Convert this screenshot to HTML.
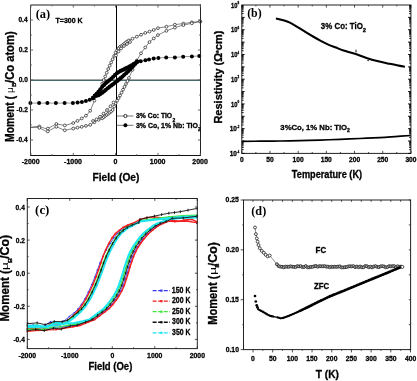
<!DOCTYPE html>
<html><head><meta charset="utf-8"><title>Figure</title>
<style>html,body{margin:0;padding:0;background:#fff;width:417px;height:381px;overflow:hidden}svg{display:block}</style>
</head><body>
<svg width="417" height="381" viewBox="0 0 417 381">
<rect width="417" height="381" fill="#fff"/>
<line x1="30.5" y1="79.5" x2="200.5" y2="79.5" stroke="#a4aaab" stroke-width="1"/>
<line x1="30.5" y1="80.5" x2="200.5" y2="80.5" stroke="#476a6e" stroke-width="1"/>
<line x1="116.5" y1="5" x2="116.5" y2="155" stroke="#000" stroke-width="1"/>
<polyline points="30.4,127.4 38.6,126.2 46.9,129.1 56.4,123.9 64.6,125.5 72.9,123.2 80,119.6 87.1,114.9 90.5,110.3 93.6,102.5 97.6,93.5 101.5,85.5 104.8,77.5 108.8,67.5 112.3,60 115.5,52.8 119,47.6 122.8,45 126,42.3 128.7,40.6 132,39 135.2,37.4 141.1,34.7 145.5,32.8 149.2,31.7 153.9,29.9 157.7,28.2 166.4,26.7 175,24.6 183.3,23.6 191.5,22.4 199.8,21.3" fill="none" stroke="#333" stroke-width="0.6" stroke-linejoin="round"/>
<polyline points="30.4,127.4 38.6,127.4 46.9,131.9 56.4,126.7 64.6,130.3 72.9,128.6 82.3,126.7 90.6,124.8 96.5,120.8 101.8,118.6 106.5,115 112.4,110.5 115.8,102.8 119.8,96 123.8,88.2 127.8,80.5 131.8,71.5 134.4,65.5 136.8,60.5 140.8,53.6 145.5,47.1 149.2,42.3 157.3,35.4 166.7,30.7 176.2,27.2 183,25.2 190.3,23.6 199.8,21.7" fill="none" stroke="#333" stroke-width="0.6" stroke-linejoin="round"/>
<circle cx="39.37" cy="126.47" r="1.4" fill="#fff" stroke="#222" stroke-width="0.72"/>
<circle cx="47.84" cy="128.59" r="1.4" fill="#fff" stroke="#222" stroke-width="0.72"/>
<circle cx="56.31" cy="123.95" r="1.4" fill="#fff" stroke="#222" stroke-width="0.72"/>
<circle cx="64.78" cy="125.45" r="1.4" fill="#fff" stroke="#222" stroke-width="0.72"/>
<circle cx="73.25" cy="123.02" r="1.4" fill="#fff" stroke="#222" stroke-width="0.72"/>
<circle cx="77.48" cy="120.88" r="1.4" fill="#fff" stroke="#222" stroke-width="0.72"/>
<circle cx="81.72" cy="118.46" r="1.4" fill="#fff" stroke="#222" stroke-width="0.72"/>
<circle cx="85.95" cy="115.66" r="1.4" fill="#fff" stroke="#222" stroke-width="0.72"/>
<circle cx="90.19" cy="110.72" r="1.4" fill="#fff" stroke="#222" stroke-width="0.72"/>
<circle cx="94.42" cy="100.64" r="1.4" fill="#fff" stroke="#222" stroke-width="0.72"/>
<circle cx="98.66" cy="91.33" r="1.4" fill="#fff" stroke="#222" stroke-width="0.72"/>
<circle cx="102.26" cy="83.66" r="1.4" fill="#fff" stroke="#222" stroke-width="0.72"/>
<circle cx="103.74" cy="80.06" r="1.4" fill="#fff" stroke="#222" stroke-width="0.72"/>
<circle cx="105.22" cy="76.44" r="1.4" fill="#fff" stroke="#222" stroke-width="0.72"/>
<circle cx="106.71" cy="72.73" r="1.4" fill="#fff" stroke="#222" stroke-width="0.72"/>
<circle cx="108.19" cy="69.03" r="1.4" fill="#fff" stroke="#222" stroke-width="0.72"/>
<circle cx="109.67" cy="65.63" r="1.4" fill="#fff" stroke="#222" stroke-width="0.72"/>
<circle cx="111.15" cy="62.46" r="1.4" fill="#fff" stroke="#222" stroke-width="0.72"/>
<circle cx="112.64" cy="59.25" r="1.4" fill="#fff" stroke="#222" stroke-width="0.72"/>
<circle cx="114.12" cy="55.91" r="1.4" fill="#fff" stroke="#222" stroke-width="0.72"/>
<circle cx="115.6" cy="52.65" r="1.4" fill="#fff" stroke="#222" stroke-width="0.72"/>
<circle cx="117.08" cy="50.45" r="1.4" fill="#fff" stroke="#222" stroke-width="0.72"/>
<circle cx="118.56" cy="48.25" r="1.4" fill="#fff" stroke="#222" stroke-width="0.72"/>
<circle cx="120.05" cy="46.88" r="1.4" fill="#fff" stroke="#222" stroke-width="0.72"/>
<circle cx="121.53" cy="45.87" r="1.4" fill="#fff" stroke="#222" stroke-width="0.72"/>
<circle cx="123.01" cy="44.82" r="1.4" fill="#fff" stroke="#222" stroke-width="0.72"/>
<circle cx="124.49" cy="43.57" r="1.4" fill="#fff" stroke="#222" stroke-width="0.72"/>
<circle cx="125.98" cy="42.32" r="1.4" fill="#fff" stroke="#222" stroke-width="0.72"/>
<circle cx="127.46" cy="41.38" r="1.4" fill="#fff" stroke="#222" stroke-width="0.72"/>
<circle cx="128.94" cy="40.48" r="1.4" fill="#fff" stroke="#222" stroke-width="0.72"/>
<circle cx="132.54" cy="38.73" r="1.4" fill="#fff" stroke="#222" stroke-width="0.72"/>
<circle cx="136.78" cy="36.68" r="1.4" fill="#fff" stroke="#222" stroke-width="0.72"/>
<circle cx="141.01" cy="34.74" r="1.4" fill="#fff" stroke="#222" stroke-width="0.72"/>
<circle cx="145.25" cy="32.91" r="1.4" fill="#fff" stroke="#222" stroke-width="0.72"/>
<circle cx="149.48" cy="31.59" r="1.4" fill="#fff" stroke="#222" stroke-width="0.72"/>
<circle cx="153.72" cy="29.97" r="1.4" fill="#fff" stroke="#222" stroke-width="0.72"/>
<circle cx="157.95" cy="28.16" r="1.4" fill="#fff" stroke="#222" stroke-width="0.72"/>
<circle cx="166.42" cy="26.7" r="1.4" fill="#fff" stroke="#222" stroke-width="0.72"/>
<circle cx="174.89" cy="24.63" r="1.4" fill="#fff" stroke="#222" stroke-width="0.72"/>
<circle cx="183.36" cy="23.59" r="1.4" fill="#fff" stroke="#222" stroke-width="0.72"/>
<circle cx="191.83" cy="22.36" r="1.4" fill="#fff" stroke="#222" stroke-width="0.72"/>
<circle cx="200.3" cy="21.3" r="1.4" fill="#fff" stroke="#222" stroke-width="0.72"/>
<circle cx="39.37" cy="127.82" r="1.4" fill="#fff" stroke="#222" stroke-width="0.72"/>
<circle cx="47.84" cy="131.39" r="1.4" fill="#fff" stroke="#222" stroke-width="0.72"/>
<circle cx="56.31" cy="126.75" r="1.4" fill="#fff" stroke="#222" stroke-width="0.72"/>
<circle cx="64.78" cy="130.26" r="1.4" fill="#fff" stroke="#222" stroke-width="0.72"/>
<circle cx="73.25" cy="128.53" r="1.4" fill="#fff" stroke="#222" stroke-width="0.72"/>
<circle cx="77.48" cy="127.67" r="1.4" fill="#fff" stroke="#222" stroke-width="0.72"/>
<circle cx="81.72" cy="126.82" r="1.4" fill="#fff" stroke="#222" stroke-width="0.72"/>
<circle cx="85.95" cy="125.86" r="1.4" fill="#fff" stroke="#222" stroke-width="0.72"/>
<circle cx="90.19" cy="124.89" r="1.4" fill="#fff" stroke="#222" stroke-width="0.72"/>
<circle cx="94.42" cy="122.21" r="1.4" fill="#fff" stroke="#222" stroke-width="0.72"/>
<circle cx="98.66" cy="119.9" r="1.4" fill="#fff" stroke="#222" stroke-width="0.72"/>
<circle cx="102.26" cy="118.25" r="1.4" fill="#fff" stroke="#222" stroke-width="0.72"/>
<circle cx="103.74" cy="117.11" r="1.4" fill="#fff" stroke="#222" stroke-width="0.72"/>
<circle cx="105.22" cy="115.98" r="1.4" fill="#fff" stroke="#222" stroke-width="0.72"/>
<circle cx="106.71" cy="114.84" r="1.4" fill="#fff" stroke="#222" stroke-width="0.72"/>
<circle cx="108.19" cy="113.71" r="1.4" fill="#fff" stroke="#222" stroke-width="0.72"/>
<circle cx="109.67" cy="112.58" r="1.4" fill="#fff" stroke="#222" stroke-width="0.72"/>
<circle cx="111.15" cy="111.45" r="1.4" fill="#fff" stroke="#222" stroke-width="0.72"/>
<circle cx="112.64" cy="109.97" r="1.4" fill="#fff" stroke="#222" stroke-width="0.72"/>
<circle cx="114.12" cy="106.61" r="1.4" fill="#fff" stroke="#222" stroke-width="0.72"/>
<circle cx="115.6" cy="103.25" r="1.4" fill="#fff" stroke="#222" stroke-width="0.72"/>
<circle cx="117.08" cy="100.62" r="1.4" fill="#fff" stroke="#222" stroke-width="0.72"/>
<circle cx="118.56" cy="98.1" r="1.4" fill="#fff" stroke="#222" stroke-width="0.72"/>
<circle cx="120.05" cy="95.52" r="1.4" fill="#fff" stroke="#222" stroke-width="0.72"/>
<circle cx="121.53" cy="92.63" r="1.4" fill="#fff" stroke="#222" stroke-width="0.72"/>
<circle cx="123.01" cy="89.74" r="1.4" fill="#fff" stroke="#222" stroke-width="0.72"/>
<circle cx="124.49" cy="86.87" r="1.4" fill="#fff" stroke="#222" stroke-width="0.72"/>
<circle cx="125.98" cy="84.01" r="1.4" fill="#fff" stroke="#222" stroke-width="0.72"/>
<circle cx="127.46" cy="81.16" r="1.4" fill="#fff" stroke="#222" stroke-width="0.72"/>
<circle cx="128.94" cy="77.93" r="1.4" fill="#fff" stroke="#222" stroke-width="0.72"/>
<circle cx="132.54" cy="69.79" r="1.4" fill="#fff" stroke="#222" stroke-width="0.72"/>
<circle cx="136.78" cy="60.55" r="1.4" fill="#fff" stroke="#222" stroke-width="0.72"/>
<circle cx="141.01" cy="53.31" r="1.4" fill="#fff" stroke="#222" stroke-width="0.72"/>
<circle cx="145.25" cy="47.45" r="1.4" fill="#fff" stroke="#222" stroke-width="0.72"/>
<circle cx="149.48" cy="42.06" r="1.4" fill="#fff" stroke="#222" stroke-width="0.72"/>
<circle cx="153.72" cy="38.45" r="1.4" fill="#fff" stroke="#222" stroke-width="0.72"/>
<circle cx="157.95" cy="35.08" r="1.4" fill="#fff" stroke="#222" stroke-width="0.72"/>
<circle cx="166.42" cy="30.84" r="1.4" fill="#fff" stroke="#222" stroke-width="0.72"/>
<circle cx="174.89" cy="27.68" r="1.4" fill="#fff" stroke="#222" stroke-width="0.72"/>
<circle cx="183.36" cy="25.12" r="1.4" fill="#fff" stroke="#222" stroke-width="0.72"/>
<circle cx="191.83" cy="23.29" r="1.4" fill="#fff" stroke="#222" stroke-width="0.72"/>
<circle cx="200.3" cy="21.7" r="1.4" fill="#fff" stroke="#222" stroke-width="0.72"/>
<polyline points="116,55.5 118.5,51.5 121,48.5 124,46 127,44 130,42" fill="none" stroke="#333" stroke-width="0.6" stroke-linejoin="round"/>
<polyline points="93,121 96.5,119.3 100,116.8 103.5,113.6 107,110 110.5,106.3 113.5,102.5" fill="none" stroke="#333" stroke-width="0.6" stroke-linejoin="round"/>
<circle cx="93" cy="121" r="1.4" fill="#fff" stroke="#222" stroke-width="0.72"/>
<circle cx="96.5" cy="119.3" r="1.4" fill="#fff" stroke="#222" stroke-width="0.72"/>
<circle cx="100" cy="116.8" r="1.4" fill="#fff" stroke="#222" stroke-width="0.72"/>
<circle cx="103.5" cy="113.6" r="1.4" fill="#fff" stroke="#222" stroke-width="0.72"/>
<circle cx="107" cy="110" r="1.4" fill="#fff" stroke="#222" stroke-width="0.72"/>
<circle cx="110.5" cy="106.3" r="1.4" fill="#fff" stroke="#222" stroke-width="0.72"/>
<circle cx="113.5" cy="102.5" r="1.4" fill="#fff" stroke="#222" stroke-width="0.72"/>
<circle cx="116" cy="55.5" r="1.4" fill="#fff" stroke="#222" stroke-width="0.72"/>
<circle cx="118.5" cy="51.5" r="1.4" fill="#fff" stroke="#222" stroke-width="0.72"/>
<circle cx="121" cy="48.5" r="1.4" fill="#fff" stroke="#222" stroke-width="0.72"/>
<circle cx="124" cy="46" r="1.4" fill="#fff" stroke="#222" stroke-width="0.72"/>
<circle cx="127" cy="44" r="1.4" fill="#fff" stroke="#222" stroke-width="0.72"/>
<circle cx="130" cy="42" r="1.4" fill="#fff" stroke="#222" stroke-width="0.72"/>
<polyline points="30.4,103.1 39.1,103.1 47.4,103.1 55.9,103.1 64.6,103.1 72.9,103 77.6,102.6 81.9,102 85.9,101 89.7,99.8 93,98 94.5,96 98,92.5 102.4,86.6 106.5,82.5 111,79 116.4,73.6 120,71.2 124,69.3 128.5,67 132.6,64.8 137.2,61.8" fill="none" stroke="#555" stroke-width="0.6" stroke-linejoin="round"/>
<polyline points="93,98 94.5,96 98,95.6 103.5,91.8 108.9,87.3 113,84.3 117.5,80.8 122,77 126.1,73.2 130,69.6 132.6,66.8 137.2,61.8 140.7,61.2 145.4,60.3 149,59.5 153.7,58.6 158.4,57.9 166.2,57.5 174.9,57.4 183.2,56.7 191.9,56.4 199.3,56" fill="none" stroke="#555" stroke-width="0.6" stroke-linejoin="round"/>
<circle cx="137.2" cy="61.4" r="2" fill="#000" stroke="none" stroke-width="0.6"/>
<circle cx="140.7" cy="61.2" r="2" fill="#000" stroke="none" stroke-width="0.6"/>
<circle cx="145.4" cy="60.3" r="2" fill="#000" stroke="none" stroke-width="0.6"/>
<circle cx="149" cy="59.5" r="2" fill="#000" stroke="none" stroke-width="0.6"/>
<circle cx="153.7" cy="58.6" r="2" fill="#000" stroke="none" stroke-width="0.6"/>
<circle cx="158.4" cy="57.9" r="2" fill="#000" stroke="none" stroke-width="0.6"/>
<circle cx="166.2" cy="57.5" r="2" fill="#000" stroke="none" stroke-width="0.6"/>
<circle cx="174.9" cy="57.4" r="2" fill="#000" stroke="none" stroke-width="0.6"/>
<circle cx="183.2" cy="56.7" r="2" fill="#000" stroke="none" stroke-width="0.6"/>
<circle cx="191.9" cy="56.4" r="2" fill="#000" stroke="none" stroke-width="0.6"/>
<circle cx="199.3" cy="56" r="2" fill="#000" stroke="none" stroke-width="0.6"/>
<circle cx="30.4" cy="103.1" r="2" fill="#000" stroke="none" stroke-width="0.6"/>
<circle cx="39.1" cy="103.1" r="2" fill="#000" stroke="none" stroke-width="0.6"/>
<circle cx="47.4" cy="103.1" r="2" fill="#000" stroke="none" stroke-width="0.6"/>
<circle cx="55.9" cy="103.1" r="2" fill="#000" stroke="none" stroke-width="0.6"/>
<circle cx="64.6" cy="103.1" r="2" fill="#000" stroke="none" stroke-width="0.6"/>
<circle cx="72.9" cy="103" r="2" fill="#000" stroke="none" stroke-width="0.6"/>
<circle cx="77.6" cy="102.6" r="2" fill="#000" stroke="none" stroke-width="0.6"/>
<circle cx="81.9" cy="102" r="2" fill="#000" stroke="none" stroke-width="0.6"/>
<circle cx="85.9" cy="101" r="2" fill="#000" stroke="none" stroke-width="0.6"/>
<circle cx="89.7" cy="99.8" r="2" fill="#000" stroke="none" stroke-width="0.6"/>
<circle cx="93" cy="98" r="2" fill="#000" stroke="none" stroke-width="0.6"/>
<circle cx="93" cy="98" r="2.1" fill="#000" stroke="none" stroke-width="0.6"/>
<circle cx="94.84" cy="95.66" r="2.1" fill="#000" stroke="none" stroke-width="0.6"/>
<circle cx="96.68" cy="93.82" r="2.1" fill="#000" stroke="none" stroke-width="0.6"/>
<circle cx="98.53" cy="91.8" r="2.1" fill="#000" stroke="none" stroke-width="0.6"/>
<circle cx="100.37" cy="89.33" r="2.1" fill="#000" stroke="none" stroke-width="0.6"/>
<circle cx="102.21" cy="86.86" r="2.1" fill="#000" stroke="none" stroke-width="0.6"/>
<circle cx="104.05" cy="84.95" r="2.1" fill="#000" stroke="none" stroke-width="0.6"/>
<circle cx="105.89" cy="83.11" r="2.1" fill="#000" stroke="none" stroke-width="0.6"/>
<circle cx="107.73" cy="81.54" r="2.1" fill="#000" stroke="none" stroke-width="0.6"/>
<circle cx="109.57" cy="80.11" r="2.1" fill="#000" stroke="none" stroke-width="0.6"/>
<circle cx="111.42" cy="78.58" r="2.1" fill="#000" stroke="none" stroke-width="0.6"/>
<circle cx="113.26" cy="76.74" r="2.1" fill="#000" stroke="none" stroke-width="0.6"/>
<circle cx="115.1" cy="74.9" r="2.1" fill="#000" stroke="none" stroke-width="0.6"/>
<circle cx="116.94" cy="73.24" r="2.1" fill="#000" stroke="none" stroke-width="0.6"/>
<circle cx="118.78" cy="72.01" r="2.1" fill="#000" stroke="none" stroke-width="0.6"/>
<circle cx="120.62" cy="70.9" r="2.1" fill="#000" stroke="none" stroke-width="0.6"/>
<circle cx="122.47" cy="70.03" r="2.1" fill="#000" stroke="none" stroke-width="0.6"/>
<circle cx="124.31" cy="69.14" r="2.1" fill="#000" stroke="none" stroke-width="0.6"/>
<circle cx="126.15" cy="68.2" r="2.1" fill="#000" stroke="none" stroke-width="0.6"/>
<circle cx="127.99" cy="67.26" r="2.1" fill="#000" stroke="none" stroke-width="0.6"/>
<circle cx="129.83" cy="66.28" r="2.1" fill="#000" stroke="none" stroke-width="0.6"/>
<circle cx="131.67" cy="65.3" r="2.1" fill="#000" stroke="none" stroke-width="0.6"/>
<circle cx="133.52" cy="64.2" r="2.1" fill="#000" stroke="none" stroke-width="0.6"/>
<circle cx="135.36" cy="63" r="2.1" fill="#000" stroke="none" stroke-width="0.6"/>
<circle cx="137.2" cy="61.8" r="2.1" fill="#000" stroke="none" stroke-width="0.6"/>
<circle cx="93" cy="98" r="2.1" fill="#000" stroke="none" stroke-width="0.6"/>
<circle cx="94.84" cy="95.96" r="2.1" fill="#000" stroke="none" stroke-width="0.6"/>
<circle cx="96.68" cy="95.75" r="2.1" fill="#000" stroke="none" stroke-width="0.6"/>
<circle cx="98.53" cy="95.24" r="2.1" fill="#000" stroke="none" stroke-width="0.6"/>
<circle cx="100.37" cy="93.96" r="2.1" fill="#000" stroke="none" stroke-width="0.6"/>
<circle cx="102.21" cy="92.69" r="2.1" fill="#000" stroke="none" stroke-width="0.6"/>
<circle cx="104.05" cy="91.34" r="2.1" fill="#000" stroke="none" stroke-width="0.6"/>
<circle cx="105.89" cy="89.81" r="2.1" fill="#000" stroke="none" stroke-width="0.6"/>
<circle cx="107.73" cy="88.27" r="2.1" fill="#000" stroke="none" stroke-width="0.6"/>
<circle cx="109.57" cy="86.81" r="2.1" fill="#000" stroke="none" stroke-width="0.6"/>
<circle cx="111.42" cy="85.46" r="2.1" fill="#000" stroke="none" stroke-width="0.6"/>
<circle cx="113.26" cy="84.1" r="2.1" fill="#000" stroke="none" stroke-width="0.6"/>
<circle cx="115.1" cy="82.67" r="2.1" fill="#000" stroke="none" stroke-width="0.6"/>
<circle cx="116.94" cy="81.23" r="2.1" fill="#000" stroke="none" stroke-width="0.6"/>
<circle cx="118.78" cy="79.72" r="2.1" fill="#000" stroke="none" stroke-width="0.6"/>
<circle cx="120.62" cy="78.16" r="2.1" fill="#000" stroke="none" stroke-width="0.6"/>
<circle cx="122.47" cy="76.57" r="2.1" fill="#000" stroke="none" stroke-width="0.6"/>
<circle cx="124.31" cy="74.86" r="2.1" fill="#000" stroke="none" stroke-width="0.6"/>
<circle cx="126.15" cy="73.15" r="2.1" fill="#000" stroke="none" stroke-width="0.6"/>
<circle cx="127.99" cy="71.45" r="2.1" fill="#000" stroke="none" stroke-width="0.6"/>
<circle cx="129.83" cy="69.75" r="2.1" fill="#000" stroke="none" stroke-width="0.6"/>
<circle cx="131.67" cy="67.8" r="2.1" fill="#000" stroke="none" stroke-width="0.6"/>
<circle cx="133.52" cy="65.8" r="2.1" fill="#000" stroke="none" stroke-width="0.6"/>
<circle cx="135.36" cy="63.8" r="2.1" fill="#000" stroke="none" stroke-width="0.6"/>
<circle cx="137.2" cy="61.8" r="2.1" fill="#000" stroke="none" stroke-width="0.6"/>
<line x1="30.5" y1="5" x2="200.5" y2="5" stroke="#6a6a6a" stroke-width="1.3"/>
<line x1="30.5" y1="5" x2="30.5" y2="155.5" stroke="#444" stroke-width="1"/>
<line x1="30" y1="155.5" x2="201" y2="155.5" stroke="#111" stroke-width="1"/>
<line x1="200.5" y1="4.4" x2="200.5" y2="155.5" stroke="#222" stroke-width="1"/>
<line x1="30.9" y1="155.5" x2="30.9" y2="152.9" stroke="#5a5a5a" stroke-width="0.9"/>
<line x1="30.9" y1="5" x2="30.9" y2="7.6" stroke="#5a5a5a" stroke-width="0.9"/>
<line x1="52.07" y1="155.5" x2="52.07" y2="154.1" stroke="#5a5a5a" stroke-width="0.9"/>
<line x1="52.07" y1="5" x2="52.07" y2="6.4" stroke="#5a5a5a" stroke-width="0.9"/>
<line x1="73.25" y1="155.5" x2="73.25" y2="152.9" stroke="#5a5a5a" stroke-width="0.9"/>
<line x1="73.25" y1="5" x2="73.25" y2="7.6" stroke="#5a5a5a" stroke-width="0.9"/>
<line x1="94.42" y1="155.5" x2="94.42" y2="154.1" stroke="#5a5a5a" stroke-width="0.9"/>
<line x1="94.42" y1="5" x2="94.42" y2="6.4" stroke="#5a5a5a" stroke-width="0.9"/>
<line x1="115.6" y1="155.5" x2="115.6" y2="152.9" stroke="#5a5a5a" stroke-width="0.9"/>
<line x1="115.6" y1="5" x2="115.6" y2="7.6" stroke="#5a5a5a" stroke-width="0.9"/>
<line x1="136.78" y1="155.5" x2="136.78" y2="154.1" stroke="#5a5a5a" stroke-width="0.9"/>
<line x1="136.78" y1="5" x2="136.78" y2="6.4" stroke="#5a5a5a" stroke-width="0.9"/>
<line x1="157.95" y1="155.5" x2="157.95" y2="152.9" stroke="#5a5a5a" stroke-width="0.9"/>
<line x1="157.95" y1="5" x2="157.95" y2="7.6" stroke="#5a5a5a" stroke-width="0.9"/>
<line x1="179.12" y1="155.5" x2="179.12" y2="154.1" stroke="#5a5a5a" stroke-width="0.9"/>
<line x1="179.12" y1="5" x2="179.12" y2="6.4" stroke="#5a5a5a" stroke-width="0.9"/>
<line x1="200.3" y1="155.5" x2="200.3" y2="152.9" stroke="#5a5a5a" stroke-width="0.9"/>
<line x1="200.3" y1="5" x2="200.3" y2="7.6" stroke="#5a5a5a" stroke-width="0.9"/>
<line x1="30.5" y1="140" x2="33.1" y2="140" stroke="#5a5a5a" stroke-width="0.9"/>
<line x1="200.5" y1="140" x2="197.9" y2="140" stroke="#5a5a5a" stroke-width="0.9"/>
<line x1="30.5" y1="125" x2="31.9" y2="125" stroke="#5a5a5a" stroke-width="0.9"/>
<line x1="200.5" y1="125" x2="199.1" y2="125" stroke="#5a5a5a" stroke-width="0.9"/>
<line x1="30.5" y1="110" x2="33.1" y2="110" stroke="#5a5a5a" stroke-width="0.9"/>
<line x1="200.5" y1="110" x2="197.9" y2="110" stroke="#5a5a5a" stroke-width="0.9"/>
<line x1="30.5" y1="95" x2="31.9" y2="95" stroke="#5a5a5a" stroke-width="0.9"/>
<line x1="200.5" y1="95" x2="199.1" y2="95" stroke="#5a5a5a" stroke-width="0.9"/>
<line x1="30.5" y1="80" x2="33.1" y2="80" stroke="#5a5a5a" stroke-width="0.9"/>
<line x1="200.5" y1="80" x2="197.9" y2="80" stroke="#5a5a5a" stroke-width="0.9"/>
<line x1="30.5" y1="65" x2="31.9" y2="65" stroke="#5a5a5a" stroke-width="0.9"/>
<line x1="200.5" y1="65" x2="199.1" y2="65" stroke="#5a5a5a" stroke-width="0.9"/>
<line x1="30.5" y1="50" x2="33.1" y2="50" stroke="#5a5a5a" stroke-width="0.9"/>
<line x1="200.5" y1="50" x2="197.9" y2="50" stroke="#5a5a5a" stroke-width="0.9"/>
<line x1="30.5" y1="35" x2="31.9" y2="35" stroke="#5a5a5a" stroke-width="0.9"/>
<line x1="200.5" y1="35" x2="199.1" y2="35" stroke="#5a5a5a" stroke-width="0.9"/>
<line x1="30.5" y1="20" x2="33.1" y2="20" stroke="#5a5a5a" stroke-width="0.9"/>
<line x1="200.5" y1="20" x2="197.9" y2="20" stroke="#5a5a5a" stroke-width="0.9"/>
<text x="21.73" y="164.4" font-family="'Liberation Sans', Arial, sans-serif" font-size="7.8" font-weight="bold" text-anchor="start" fill="#000" stroke="#000" stroke-width="0.3" textLength="17.95" lengthAdjust="spacingAndGlyphs">-2000</text>
<text x="64.08" y="164.4" font-family="'Liberation Sans', Arial, sans-serif" font-size="7.8" font-weight="bold" text-anchor="start" fill="#000" stroke="#000" stroke-width="0.3" textLength="17.95" lengthAdjust="spacingAndGlyphs">-1000</text>
<text x="113.45" y="164.4" font-family="'Liberation Sans', Arial, sans-serif" font-size="7.8" font-weight="bold" text-anchor="start" fill="#000" stroke="#000" stroke-width="0.3" textLength="3.9" lengthAdjust="spacingAndGlyphs">0</text>
<text x="149.86" y="164.4" font-family="'Liberation Sans', Arial, sans-serif" font-size="7.8" font-weight="bold" text-anchor="start" fill="#000" stroke="#000" stroke-width="0.3" textLength="15.62" lengthAdjust="spacingAndGlyphs">1000</text>
<text x="192.31" y="164.4" font-family="'Liberation Sans', Arial, sans-serif" font-size="7.8" font-weight="bold" text-anchor="start" fill="#000" stroke="#000" stroke-width="0.3" textLength="15.62" lengthAdjust="spacingAndGlyphs">2000</text>
<text x="18.44" y="22.1" font-family="'Liberation Sans', Arial, sans-serif" font-size="7.6" font-weight="bold" text-anchor="start" fill="#000" stroke="#000" stroke-width="0.3" textLength="9.19" lengthAdjust="spacingAndGlyphs">0.4</text>
<text x="18.67" y="52.1" font-family="'Liberation Sans', Arial, sans-serif" font-size="7.6" font-weight="bold" text-anchor="start" fill="#000" stroke="#000" stroke-width="0.3" textLength="9.19" lengthAdjust="spacingAndGlyphs">0.2</text>
<text x="18.68" y="82.1" font-family="'Liberation Sans', Arial, sans-serif" font-size="7.6" font-weight="bold" text-anchor="start" fill="#000" stroke="#000" stroke-width="0.3" textLength="9.19" lengthAdjust="spacingAndGlyphs">0.0</text>
<text x="16.47" y="112.1" font-family="'Liberation Sans', Arial, sans-serif" font-size="7.6" font-weight="bold" text-anchor="start" fill="#000" stroke="#000" stroke-width="0.3" textLength="11.39" lengthAdjust="spacingAndGlyphs">-0.2</text>
<text x="16.24" y="142.1" font-family="'Liberation Sans', Arial, sans-serif" font-size="7.6" font-weight="bold" text-anchor="start" fill="#000" stroke="#000" stroke-width="0.3" textLength="11.39" lengthAdjust="spacingAndGlyphs">-0.4</text>
<text x="92.57" y="180.85" font-family="'Liberation Sans', Arial, sans-serif" font-size="10.61" font-weight="bold" text-anchor="start" fill="#000" stroke="#000" stroke-width="0.3" textLength="46.78" lengthAdjust="spacingAndGlyphs">Field (Oe)</text>
<text transform="translate(13.6,0) rotate(-90)" x="-141.94" y="0" font-family="'Liberation Sans', Arial, sans-serif" font-size="12" font-weight="bold" stroke="#000" stroke-width="0.3" textLength="46.1" lengthAdjust="spacingAndGlyphs">Moment (</text>
<text transform="translate(12.6,0) rotate(-90)" x="-93.03" y="0" font-family="'Liberation Sans', Arial, sans-serif" font-size="9.5" font-weight="normal" textLength="5.82" lengthAdjust="spacingAndGlyphs">μ</text>
<text transform="translate(16.2,0) rotate(-90)" x="-86.97" y="0" font-family="'Liberation Sans', Arial, sans-serif" font-size="6.2" font-weight="bold" stroke="#000" stroke-width="0.3" textLength="4.5" lengthAdjust="spacingAndGlyphs">B</text>
<text transform="translate(13.6,0) rotate(-90)" x="-82.96" y="0" font-family="'Liberation Sans', Arial, sans-serif" font-size="12" font-weight="bold" stroke="#000" stroke-width="0.3" textLength="51.57" lengthAdjust="spacingAndGlyphs">/Co atom)</text>
<text x="35.7" y="18.05" font-family="'Liberation Serif', 'Times New Roman', serif" font-size="12.3" font-weight="bold" text-anchor="start" fill="#000" textLength="14.49" lengthAdjust="spacingAndGlyphs">(a)</text>
<text x="55.57" y="22.65" font-family="'Liberation Sans', Arial, sans-serif" font-size="7.7" font-weight="bold" text-anchor="start" fill="#000" stroke="#000" stroke-width="0.3" textLength="27.04" lengthAdjust="spacingAndGlyphs">T=300 K</text>
<line x1="116.8" y1="116" x2="133.5" y2="116" stroke="#555" stroke-width="0.8"/>
<circle cx="125.4" cy="116" r="1.6" fill="#fff" stroke="#111" stroke-width="0.85"/>
<line x1="116.8" y1="125.3" x2="133.5" y2="125.3" stroke="#555" stroke-width="0.8"/>
<circle cx="125.4" cy="125.3" r="2" fill="#000" stroke="none" stroke-width="0.6"/>
<text x="136.09" y="117.75" font-family="'Liberation Sans', Arial, sans-serif" font-size="6.4" font-weight="bold" text-anchor="start" fill="#000" stroke="#000" stroke-width="0.3" textLength="36.04" lengthAdjust="spacingAndGlyphs">3% Co: TiO</text>
<text x="172.48" y="121.95" font-family="'Liberation Sans', Arial, sans-serif" font-size="5" font-weight="bold" text-anchor="start" fill="#000" stroke="#000" stroke-width="0.3" textLength="2.77" lengthAdjust="spacingAndGlyphs">2</text>
<text x="135.99" y="127.55" font-family="'Liberation Sans', Arial, sans-serif" font-size="6.83" font-weight="bold" text-anchor="start" fill="#000" stroke="#000" stroke-width="0.3" textLength="61.95" lengthAdjust="spacingAndGlyphs">3% Co, 1% Nb: TiO</text>
<text x="198.09" y="131.25" font-family="'Liberation Sans', Arial, sans-serif" font-size="5" font-weight="bold" text-anchor="start" fill="#000" stroke="#000" stroke-width="0.3" textLength="2.54" lengthAdjust="spacingAndGlyphs">2</text>
<path d="M275.9,18.4 C276.97,18.67 279.97,19.3 282.3,20 C284.63,20.7 287.35,21.42 289.9,22.6 C292.45,23.78 295.03,25.55 297.6,27.1 C300.17,28.65 302.73,30.33 305.3,31.9 C307.87,33.47 310.5,35.05 313,36.5 C315.5,37.95 317.75,39.25 320.3,40.6 C322.85,41.95 325.68,43.43 328.3,44.6 C330.92,45.77 333.47,46.63 336,47.6 C338.53,48.57 340.35,49.37 343.5,50.4 C346.65,51.43 351.07,52.53 354.9,53.8 C358.73,55.07 362.62,56.75 366.5,58 C370.38,59.25 374.32,60.33 378.2,61.3 C382.08,62.27 386.67,63.13 389.8,63.8 C392.93,64.47 394.48,64.8 397,65.3 C399.52,65.8 403.58,66.55 404.9,66.8" fill="none" stroke="#000" stroke-width="2.1" stroke-linecap="butt"/>
<circle cx="356" cy="51" r="0.6" fill="#000" stroke="none" stroke-width="0.6"/>
<line x1="356" y1="49.5" x2="356" y2="52.5" stroke="#000" stroke-width="0.6"/>
<circle cx="368.1" cy="60.5" r="0.7" fill="#000" stroke="none" stroke-width="0.6"/>
<path d="M242.5,141.3 C245.42,141.28 253.75,141.25 260,141.2 C266.25,141.15 273.33,141.08 280,141 C286.67,140.92 293.33,140.85 300,140.7 C306.67,140.55 313.33,140.33 320,140.1 C326.67,139.87 333.33,139.57 340,139.3 C346.67,139.03 353.33,138.78 360,138.5 C366.67,138.22 374.17,137.92 380,137.6 C385.83,137.28 389.92,136.95 395,136.6 C400.08,136.25 407.92,135.68 410.5,135.5" fill="none" stroke="#000" stroke-width="1.7" stroke-linecap="butt"/>
<rect x="241.8" y="5" width="169.1" height="148.4" fill="none" stroke="#222" stroke-width="1.0"/>
<line x1="241.8" y1="153.4" x2="241.8" y2="150.8" stroke="#222" stroke-width="0.8"/>
<line x1="241.8" y1="5" x2="241.8" y2="7.6" stroke="#222" stroke-width="0.8"/>
<line x1="255.89" y1="153.4" x2="255.89" y2="152" stroke="#222" stroke-width="0.8"/>
<line x1="255.89" y1="5" x2="255.89" y2="6.4" stroke="#222" stroke-width="0.8"/>
<line x1="269.98" y1="153.4" x2="269.98" y2="150.8" stroke="#222" stroke-width="0.8"/>
<line x1="269.98" y1="5" x2="269.98" y2="7.6" stroke="#222" stroke-width="0.8"/>
<line x1="284.07" y1="153.4" x2="284.07" y2="152" stroke="#222" stroke-width="0.8"/>
<line x1="284.07" y1="5" x2="284.07" y2="6.4" stroke="#222" stroke-width="0.8"/>
<line x1="298.17" y1="153.4" x2="298.17" y2="150.8" stroke="#222" stroke-width="0.8"/>
<line x1="298.17" y1="5" x2="298.17" y2="7.6" stroke="#222" stroke-width="0.8"/>
<line x1="312.26" y1="153.4" x2="312.26" y2="152" stroke="#222" stroke-width="0.8"/>
<line x1="312.26" y1="5" x2="312.26" y2="6.4" stroke="#222" stroke-width="0.8"/>
<line x1="326.35" y1="153.4" x2="326.35" y2="150.8" stroke="#222" stroke-width="0.8"/>
<line x1="326.35" y1="5" x2="326.35" y2="7.6" stroke="#222" stroke-width="0.8"/>
<line x1="340.44" y1="153.4" x2="340.44" y2="152" stroke="#222" stroke-width="0.8"/>
<line x1="340.44" y1="5" x2="340.44" y2="6.4" stroke="#222" stroke-width="0.8"/>
<line x1="354.53" y1="153.4" x2="354.53" y2="150.8" stroke="#222" stroke-width="0.8"/>
<line x1="354.53" y1="5" x2="354.53" y2="7.6" stroke="#222" stroke-width="0.8"/>
<line x1="368.62" y1="153.4" x2="368.62" y2="152" stroke="#222" stroke-width="0.8"/>
<line x1="368.62" y1="5" x2="368.62" y2="6.4" stroke="#222" stroke-width="0.8"/>
<line x1="382.72" y1="153.4" x2="382.72" y2="150.8" stroke="#222" stroke-width="0.8"/>
<line x1="382.72" y1="5" x2="382.72" y2="7.6" stroke="#222" stroke-width="0.8"/>
<line x1="396.81" y1="153.4" x2="396.81" y2="152" stroke="#222" stroke-width="0.8"/>
<line x1="396.81" y1="5" x2="396.81" y2="6.4" stroke="#222" stroke-width="0.8"/>
<line x1="410.9" y1="153.4" x2="410.9" y2="150.8" stroke="#222" stroke-width="0.8"/>
<line x1="410.9" y1="5" x2="410.9" y2="7.6" stroke="#222" stroke-width="0.8"/>
<line x1="241.8" y1="153.4" x2="244.7" y2="153.4" stroke="#000" stroke-width="0.9"/>
<line x1="410.9" y1="153.4" x2="408" y2="153.4" stroke="#000" stroke-width="0.9"/>
<line x1="241.8" y1="149.68" x2="243.6" y2="149.68" stroke="#000" stroke-width="0.9"/>
<line x1="410.9" y1="149.68" x2="409.1" y2="149.68" stroke="#000" stroke-width="0.9"/>
<line x1="241.8" y1="147.5" x2="243.6" y2="147.5" stroke="#000" stroke-width="0.9"/>
<line x1="410.9" y1="147.5" x2="409.1" y2="147.5" stroke="#000" stroke-width="0.9"/>
<line x1="241.8" y1="145.95" x2="243.6" y2="145.95" stroke="#000" stroke-width="0.9"/>
<line x1="410.9" y1="145.95" x2="409.1" y2="145.95" stroke="#000" stroke-width="0.9"/>
<line x1="241.8" y1="144.76" x2="243.6" y2="144.76" stroke="#000" stroke-width="0.9"/>
<line x1="410.9" y1="144.76" x2="409.1" y2="144.76" stroke="#000" stroke-width="0.9"/>
<line x1="241.8" y1="143.78" x2="243.6" y2="143.78" stroke="#000" stroke-width="0.9"/>
<line x1="410.9" y1="143.78" x2="409.1" y2="143.78" stroke="#000" stroke-width="0.9"/>
<line x1="241.8" y1="142.95" x2="243.6" y2="142.95" stroke="#000" stroke-width="0.9"/>
<line x1="410.9" y1="142.95" x2="409.1" y2="142.95" stroke="#000" stroke-width="0.9"/>
<line x1="241.8" y1="142.23" x2="243.6" y2="142.23" stroke="#000" stroke-width="0.9"/>
<line x1="410.9" y1="142.23" x2="409.1" y2="142.23" stroke="#000" stroke-width="0.9"/>
<line x1="241.8" y1="141.6" x2="243.6" y2="141.6" stroke="#000" stroke-width="0.9"/>
<line x1="410.9" y1="141.6" x2="409.1" y2="141.6" stroke="#000" stroke-width="0.9"/>
<line x1="241.8" y1="141.03" x2="244.7" y2="141.03" stroke="#000" stroke-width="0.9"/>
<line x1="410.9" y1="141.03" x2="408" y2="141.03" stroke="#000" stroke-width="0.9"/>
<line x1="241.8" y1="137.31" x2="243.6" y2="137.31" stroke="#000" stroke-width="0.9"/>
<line x1="410.9" y1="137.31" x2="409.1" y2="137.31" stroke="#000" stroke-width="0.9"/>
<line x1="241.8" y1="135.13" x2="243.6" y2="135.13" stroke="#000" stroke-width="0.9"/>
<line x1="410.9" y1="135.13" x2="409.1" y2="135.13" stroke="#000" stroke-width="0.9"/>
<line x1="241.8" y1="133.59" x2="243.6" y2="133.59" stroke="#000" stroke-width="0.9"/>
<line x1="410.9" y1="133.59" x2="409.1" y2="133.59" stroke="#000" stroke-width="0.9"/>
<line x1="241.8" y1="132.39" x2="243.6" y2="132.39" stroke="#000" stroke-width="0.9"/>
<line x1="410.9" y1="132.39" x2="409.1" y2="132.39" stroke="#000" stroke-width="0.9"/>
<line x1="241.8" y1="131.41" x2="243.6" y2="131.41" stroke="#000" stroke-width="0.9"/>
<line x1="410.9" y1="131.41" x2="409.1" y2="131.41" stroke="#000" stroke-width="0.9"/>
<line x1="241.8" y1="130.58" x2="243.6" y2="130.58" stroke="#000" stroke-width="0.9"/>
<line x1="410.9" y1="130.58" x2="409.1" y2="130.58" stroke="#000" stroke-width="0.9"/>
<line x1="241.8" y1="129.87" x2="243.6" y2="129.87" stroke="#000" stroke-width="0.9"/>
<line x1="410.9" y1="129.87" x2="409.1" y2="129.87" stroke="#000" stroke-width="0.9"/>
<line x1="241.8" y1="129.23" x2="243.6" y2="129.23" stroke="#000" stroke-width="0.9"/>
<line x1="410.9" y1="129.23" x2="409.1" y2="129.23" stroke="#000" stroke-width="0.9"/>
<line x1="241.8" y1="128.67" x2="244.7" y2="128.67" stroke="#000" stroke-width="0.9"/>
<line x1="410.9" y1="128.67" x2="408" y2="128.67" stroke="#000" stroke-width="0.9"/>
<line x1="241.8" y1="124.94" x2="243.6" y2="124.94" stroke="#000" stroke-width="0.9"/>
<line x1="410.9" y1="124.94" x2="409.1" y2="124.94" stroke="#000" stroke-width="0.9"/>
<line x1="241.8" y1="122.77" x2="243.6" y2="122.77" stroke="#000" stroke-width="0.9"/>
<line x1="410.9" y1="122.77" x2="409.1" y2="122.77" stroke="#000" stroke-width="0.9"/>
<line x1="241.8" y1="121.22" x2="243.6" y2="121.22" stroke="#000" stroke-width="0.9"/>
<line x1="410.9" y1="121.22" x2="409.1" y2="121.22" stroke="#000" stroke-width="0.9"/>
<line x1="241.8" y1="120.02" x2="243.6" y2="120.02" stroke="#000" stroke-width="0.9"/>
<line x1="410.9" y1="120.02" x2="409.1" y2="120.02" stroke="#000" stroke-width="0.9"/>
<line x1="241.8" y1="119.04" x2="243.6" y2="119.04" stroke="#000" stroke-width="0.9"/>
<line x1="410.9" y1="119.04" x2="409.1" y2="119.04" stroke="#000" stroke-width="0.9"/>
<line x1="241.8" y1="118.22" x2="243.6" y2="118.22" stroke="#000" stroke-width="0.9"/>
<line x1="410.9" y1="118.22" x2="409.1" y2="118.22" stroke="#000" stroke-width="0.9"/>
<line x1="241.8" y1="117.5" x2="243.6" y2="117.5" stroke="#000" stroke-width="0.9"/>
<line x1="410.9" y1="117.5" x2="409.1" y2="117.5" stroke="#000" stroke-width="0.9"/>
<line x1="241.8" y1="116.87" x2="243.6" y2="116.87" stroke="#000" stroke-width="0.9"/>
<line x1="410.9" y1="116.87" x2="409.1" y2="116.87" stroke="#000" stroke-width="0.9"/>
<line x1="241.8" y1="116.3" x2="244.7" y2="116.3" stroke="#000" stroke-width="0.9"/>
<line x1="410.9" y1="116.3" x2="408" y2="116.3" stroke="#000" stroke-width="0.9"/>
<line x1="241.8" y1="112.58" x2="243.6" y2="112.58" stroke="#000" stroke-width="0.9"/>
<line x1="410.9" y1="112.58" x2="409.1" y2="112.58" stroke="#000" stroke-width="0.9"/>
<line x1="241.8" y1="110.4" x2="243.6" y2="110.4" stroke="#000" stroke-width="0.9"/>
<line x1="410.9" y1="110.4" x2="409.1" y2="110.4" stroke="#000" stroke-width="0.9"/>
<line x1="241.8" y1="108.85" x2="243.6" y2="108.85" stroke="#000" stroke-width="0.9"/>
<line x1="410.9" y1="108.85" x2="409.1" y2="108.85" stroke="#000" stroke-width="0.9"/>
<line x1="241.8" y1="107.66" x2="243.6" y2="107.66" stroke="#000" stroke-width="0.9"/>
<line x1="410.9" y1="107.66" x2="409.1" y2="107.66" stroke="#000" stroke-width="0.9"/>
<line x1="241.8" y1="106.68" x2="243.6" y2="106.68" stroke="#000" stroke-width="0.9"/>
<line x1="410.9" y1="106.68" x2="409.1" y2="106.68" stroke="#000" stroke-width="0.9"/>
<line x1="241.8" y1="105.85" x2="243.6" y2="105.85" stroke="#000" stroke-width="0.9"/>
<line x1="410.9" y1="105.85" x2="409.1" y2="105.85" stroke="#000" stroke-width="0.9"/>
<line x1="241.8" y1="105.13" x2="243.6" y2="105.13" stroke="#000" stroke-width="0.9"/>
<line x1="410.9" y1="105.13" x2="409.1" y2="105.13" stroke="#000" stroke-width="0.9"/>
<line x1="241.8" y1="104.5" x2="243.6" y2="104.5" stroke="#000" stroke-width="0.9"/>
<line x1="410.9" y1="104.5" x2="409.1" y2="104.5" stroke="#000" stroke-width="0.9"/>
<line x1="241.8" y1="103.93" x2="244.7" y2="103.93" stroke="#000" stroke-width="0.9"/>
<line x1="410.9" y1="103.93" x2="408" y2="103.93" stroke="#000" stroke-width="0.9"/>
<line x1="241.8" y1="100.21" x2="243.6" y2="100.21" stroke="#000" stroke-width="0.9"/>
<line x1="410.9" y1="100.21" x2="409.1" y2="100.21" stroke="#000" stroke-width="0.9"/>
<line x1="241.8" y1="98.03" x2="243.6" y2="98.03" stroke="#000" stroke-width="0.9"/>
<line x1="410.9" y1="98.03" x2="409.1" y2="98.03" stroke="#000" stroke-width="0.9"/>
<line x1="241.8" y1="96.49" x2="243.6" y2="96.49" stroke="#000" stroke-width="0.9"/>
<line x1="410.9" y1="96.49" x2="409.1" y2="96.49" stroke="#000" stroke-width="0.9"/>
<line x1="241.8" y1="95.29" x2="243.6" y2="95.29" stroke="#000" stroke-width="0.9"/>
<line x1="410.9" y1="95.29" x2="409.1" y2="95.29" stroke="#000" stroke-width="0.9"/>
<line x1="241.8" y1="94.31" x2="243.6" y2="94.31" stroke="#000" stroke-width="0.9"/>
<line x1="410.9" y1="94.31" x2="409.1" y2="94.31" stroke="#000" stroke-width="0.9"/>
<line x1="241.8" y1="93.48" x2="243.6" y2="93.48" stroke="#000" stroke-width="0.9"/>
<line x1="410.9" y1="93.48" x2="409.1" y2="93.48" stroke="#000" stroke-width="0.9"/>
<line x1="241.8" y1="92.77" x2="243.6" y2="92.77" stroke="#000" stroke-width="0.9"/>
<line x1="410.9" y1="92.77" x2="409.1" y2="92.77" stroke="#000" stroke-width="0.9"/>
<line x1="241.8" y1="92.13" x2="243.6" y2="92.13" stroke="#000" stroke-width="0.9"/>
<line x1="410.9" y1="92.13" x2="409.1" y2="92.13" stroke="#000" stroke-width="0.9"/>
<line x1="241.8" y1="91.57" x2="244.7" y2="91.57" stroke="#000" stroke-width="0.9"/>
<line x1="410.9" y1="91.57" x2="408" y2="91.57" stroke="#000" stroke-width="0.9"/>
<line x1="241.8" y1="87.84" x2="243.6" y2="87.84" stroke="#000" stroke-width="0.9"/>
<line x1="410.9" y1="87.84" x2="409.1" y2="87.84" stroke="#000" stroke-width="0.9"/>
<line x1="241.8" y1="85.67" x2="243.6" y2="85.67" stroke="#000" stroke-width="0.9"/>
<line x1="410.9" y1="85.67" x2="409.1" y2="85.67" stroke="#000" stroke-width="0.9"/>
<line x1="241.8" y1="84.12" x2="243.6" y2="84.12" stroke="#000" stroke-width="0.9"/>
<line x1="410.9" y1="84.12" x2="409.1" y2="84.12" stroke="#000" stroke-width="0.9"/>
<line x1="241.8" y1="82.92" x2="243.6" y2="82.92" stroke="#000" stroke-width="0.9"/>
<line x1="410.9" y1="82.92" x2="409.1" y2="82.92" stroke="#000" stroke-width="0.9"/>
<line x1="241.8" y1="81.94" x2="243.6" y2="81.94" stroke="#000" stroke-width="0.9"/>
<line x1="410.9" y1="81.94" x2="409.1" y2="81.94" stroke="#000" stroke-width="0.9"/>
<line x1="241.8" y1="81.12" x2="243.6" y2="81.12" stroke="#000" stroke-width="0.9"/>
<line x1="410.9" y1="81.12" x2="409.1" y2="81.12" stroke="#000" stroke-width="0.9"/>
<line x1="241.8" y1="80.4" x2="243.6" y2="80.4" stroke="#000" stroke-width="0.9"/>
<line x1="410.9" y1="80.4" x2="409.1" y2="80.4" stroke="#000" stroke-width="0.9"/>
<line x1="241.8" y1="79.77" x2="243.6" y2="79.77" stroke="#000" stroke-width="0.9"/>
<line x1="410.9" y1="79.77" x2="409.1" y2="79.77" stroke="#000" stroke-width="0.9"/>
<line x1="241.8" y1="79.2" x2="244.7" y2="79.2" stroke="#000" stroke-width="0.9"/>
<line x1="410.9" y1="79.2" x2="408" y2="79.2" stroke="#000" stroke-width="0.9"/>
<line x1="241.8" y1="75.48" x2="243.6" y2="75.48" stroke="#000" stroke-width="0.9"/>
<line x1="410.9" y1="75.48" x2="409.1" y2="75.48" stroke="#000" stroke-width="0.9"/>
<line x1="241.8" y1="73.3" x2="243.6" y2="73.3" stroke="#000" stroke-width="0.9"/>
<line x1="410.9" y1="73.3" x2="409.1" y2="73.3" stroke="#000" stroke-width="0.9"/>
<line x1="241.8" y1="71.75" x2="243.6" y2="71.75" stroke="#000" stroke-width="0.9"/>
<line x1="410.9" y1="71.75" x2="409.1" y2="71.75" stroke="#000" stroke-width="0.9"/>
<line x1="241.8" y1="70.56" x2="243.6" y2="70.56" stroke="#000" stroke-width="0.9"/>
<line x1="410.9" y1="70.56" x2="409.1" y2="70.56" stroke="#000" stroke-width="0.9"/>
<line x1="241.8" y1="69.58" x2="243.6" y2="69.58" stroke="#000" stroke-width="0.9"/>
<line x1="410.9" y1="69.58" x2="409.1" y2="69.58" stroke="#000" stroke-width="0.9"/>
<line x1="241.8" y1="68.75" x2="243.6" y2="68.75" stroke="#000" stroke-width="0.9"/>
<line x1="410.9" y1="68.75" x2="409.1" y2="68.75" stroke="#000" stroke-width="0.9"/>
<line x1="241.8" y1="68.03" x2="243.6" y2="68.03" stroke="#000" stroke-width="0.9"/>
<line x1="410.9" y1="68.03" x2="409.1" y2="68.03" stroke="#000" stroke-width="0.9"/>
<line x1="241.8" y1="67.4" x2="243.6" y2="67.4" stroke="#000" stroke-width="0.9"/>
<line x1="410.9" y1="67.4" x2="409.1" y2="67.4" stroke="#000" stroke-width="0.9"/>
<line x1="241.8" y1="66.83" x2="244.7" y2="66.83" stroke="#000" stroke-width="0.9"/>
<line x1="410.9" y1="66.83" x2="408" y2="66.83" stroke="#000" stroke-width="0.9"/>
<line x1="241.8" y1="63.11" x2="243.6" y2="63.11" stroke="#000" stroke-width="0.9"/>
<line x1="410.9" y1="63.11" x2="409.1" y2="63.11" stroke="#000" stroke-width="0.9"/>
<line x1="241.8" y1="60.93" x2="243.6" y2="60.93" stroke="#000" stroke-width="0.9"/>
<line x1="410.9" y1="60.93" x2="409.1" y2="60.93" stroke="#000" stroke-width="0.9"/>
<line x1="241.8" y1="59.39" x2="243.6" y2="59.39" stroke="#000" stroke-width="0.9"/>
<line x1="410.9" y1="59.39" x2="409.1" y2="59.39" stroke="#000" stroke-width="0.9"/>
<line x1="241.8" y1="58.19" x2="243.6" y2="58.19" stroke="#000" stroke-width="0.9"/>
<line x1="410.9" y1="58.19" x2="409.1" y2="58.19" stroke="#000" stroke-width="0.9"/>
<line x1="241.8" y1="57.21" x2="243.6" y2="57.21" stroke="#000" stroke-width="0.9"/>
<line x1="410.9" y1="57.21" x2="409.1" y2="57.21" stroke="#000" stroke-width="0.9"/>
<line x1="241.8" y1="56.38" x2="243.6" y2="56.38" stroke="#000" stroke-width="0.9"/>
<line x1="410.9" y1="56.38" x2="409.1" y2="56.38" stroke="#000" stroke-width="0.9"/>
<line x1="241.8" y1="55.67" x2="243.6" y2="55.67" stroke="#000" stroke-width="0.9"/>
<line x1="410.9" y1="55.67" x2="409.1" y2="55.67" stroke="#000" stroke-width="0.9"/>
<line x1="241.8" y1="55.03" x2="243.6" y2="55.03" stroke="#000" stroke-width="0.9"/>
<line x1="410.9" y1="55.03" x2="409.1" y2="55.03" stroke="#000" stroke-width="0.9"/>
<line x1="241.8" y1="54.47" x2="244.7" y2="54.47" stroke="#000" stroke-width="0.9"/>
<line x1="410.9" y1="54.47" x2="408" y2="54.47" stroke="#000" stroke-width="0.9"/>
<line x1="241.8" y1="50.74" x2="243.6" y2="50.74" stroke="#000" stroke-width="0.9"/>
<line x1="410.9" y1="50.74" x2="409.1" y2="50.74" stroke="#000" stroke-width="0.9"/>
<line x1="241.8" y1="48.57" x2="243.6" y2="48.57" stroke="#000" stroke-width="0.9"/>
<line x1="410.9" y1="48.57" x2="409.1" y2="48.57" stroke="#000" stroke-width="0.9"/>
<line x1="241.8" y1="47.02" x2="243.6" y2="47.02" stroke="#000" stroke-width="0.9"/>
<line x1="410.9" y1="47.02" x2="409.1" y2="47.02" stroke="#000" stroke-width="0.9"/>
<line x1="241.8" y1="45.82" x2="243.6" y2="45.82" stroke="#000" stroke-width="0.9"/>
<line x1="410.9" y1="45.82" x2="409.1" y2="45.82" stroke="#000" stroke-width="0.9"/>
<line x1="241.8" y1="44.84" x2="243.6" y2="44.84" stroke="#000" stroke-width="0.9"/>
<line x1="410.9" y1="44.84" x2="409.1" y2="44.84" stroke="#000" stroke-width="0.9"/>
<line x1="241.8" y1="44.02" x2="243.6" y2="44.02" stroke="#000" stroke-width="0.9"/>
<line x1="410.9" y1="44.02" x2="409.1" y2="44.02" stroke="#000" stroke-width="0.9"/>
<line x1="241.8" y1="43.3" x2="243.6" y2="43.3" stroke="#000" stroke-width="0.9"/>
<line x1="410.9" y1="43.3" x2="409.1" y2="43.3" stroke="#000" stroke-width="0.9"/>
<line x1="241.8" y1="42.67" x2="243.6" y2="42.67" stroke="#000" stroke-width="0.9"/>
<line x1="410.9" y1="42.67" x2="409.1" y2="42.67" stroke="#000" stroke-width="0.9"/>
<line x1="241.8" y1="42.1" x2="244.7" y2="42.1" stroke="#000" stroke-width="0.9"/>
<line x1="410.9" y1="42.1" x2="408" y2="42.1" stroke="#000" stroke-width="0.9"/>
<line x1="241.8" y1="38.38" x2="243.6" y2="38.38" stroke="#000" stroke-width="0.9"/>
<line x1="410.9" y1="38.38" x2="409.1" y2="38.38" stroke="#000" stroke-width="0.9"/>
<line x1="241.8" y1="36.2" x2="243.6" y2="36.2" stroke="#000" stroke-width="0.9"/>
<line x1="410.9" y1="36.2" x2="409.1" y2="36.2" stroke="#000" stroke-width="0.9"/>
<line x1="241.8" y1="34.65" x2="243.6" y2="34.65" stroke="#000" stroke-width="0.9"/>
<line x1="410.9" y1="34.65" x2="409.1" y2="34.65" stroke="#000" stroke-width="0.9"/>
<line x1="241.8" y1="33.46" x2="243.6" y2="33.46" stroke="#000" stroke-width="0.9"/>
<line x1="410.9" y1="33.46" x2="409.1" y2="33.46" stroke="#000" stroke-width="0.9"/>
<line x1="241.8" y1="32.48" x2="243.6" y2="32.48" stroke="#000" stroke-width="0.9"/>
<line x1="410.9" y1="32.48" x2="409.1" y2="32.48" stroke="#000" stroke-width="0.9"/>
<line x1="241.8" y1="31.65" x2="243.6" y2="31.65" stroke="#000" stroke-width="0.9"/>
<line x1="410.9" y1="31.65" x2="409.1" y2="31.65" stroke="#000" stroke-width="0.9"/>
<line x1="241.8" y1="30.93" x2="243.6" y2="30.93" stroke="#000" stroke-width="0.9"/>
<line x1="410.9" y1="30.93" x2="409.1" y2="30.93" stroke="#000" stroke-width="0.9"/>
<line x1="241.8" y1="30.3" x2="243.6" y2="30.3" stroke="#000" stroke-width="0.9"/>
<line x1="410.9" y1="30.3" x2="409.1" y2="30.3" stroke="#000" stroke-width="0.9"/>
<line x1="241.8" y1="29.73" x2="244.7" y2="29.73" stroke="#000" stroke-width="0.9"/>
<line x1="410.9" y1="29.73" x2="408" y2="29.73" stroke="#000" stroke-width="0.9"/>
<line x1="241.8" y1="26.01" x2="243.6" y2="26.01" stroke="#000" stroke-width="0.9"/>
<line x1="410.9" y1="26.01" x2="409.1" y2="26.01" stroke="#000" stroke-width="0.9"/>
<line x1="241.8" y1="23.83" x2="243.6" y2="23.83" stroke="#000" stroke-width="0.9"/>
<line x1="410.9" y1="23.83" x2="409.1" y2="23.83" stroke="#000" stroke-width="0.9"/>
<line x1="241.8" y1="22.29" x2="243.6" y2="22.29" stroke="#000" stroke-width="0.9"/>
<line x1="410.9" y1="22.29" x2="409.1" y2="22.29" stroke="#000" stroke-width="0.9"/>
<line x1="241.8" y1="21.09" x2="243.6" y2="21.09" stroke="#000" stroke-width="0.9"/>
<line x1="410.9" y1="21.09" x2="409.1" y2="21.09" stroke="#000" stroke-width="0.9"/>
<line x1="241.8" y1="20.11" x2="243.6" y2="20.11" stroke="#000" stroke-width="0.9"/>
<line x1="410.9" y1="20.11" x2="409.1" y2="20.11" stroke="#000" stroke-width="0.9"/>
<line x1="241.8" y1="19.28" x2="243.6" y2="19.28" stroke="#000" stroke-width="0.9"/>
<line x1="410.9" y1="19.28" x2="409.1" y2="19.28" stroke="#000" stroke-width="0.9"/>
<line x1="241.8" y1="18.57" x2="243.6" y2="18.57" stroke="#000" stroke-width="0.9"/>
<line x1="410.9" y1="18.57" x2="409.1" y2="18.57" stroke="#000" stroke-width="0.9"/>
<line x1="241.8" y1="17.93" x2="243.6" y2="17.93" stroke="#000" stroke-width="0.9"/>
<line x1="410.9" y1="17.93" x2="409.1" y2="17.93" stroke="#000" stroke-width="0.9"/>
<line x1="241.8" y1="17.37" x2="244.7" y2="17.37" stroke="#000" stroke-width="0.9"/>
<line x1="410.9" y1="17.37" x2="408" y2="17.37" stroke="#000" stroke-width="0.9"/>
<line x1="241.8" y1="13.64" x2="243.6" y2="13.64" stroke="#000" stroke-width="0.9"/>
<line x1="410.9" y1="13.64" x2="409.1" y2="13.64" stroke="#000" stroke-width="0.9"/>
<line x1="241.8" y1="11.47" x2="243.6" y2="11.47" stroke="#000" stroke-width="0.9"/>
<line x1="410.9" y1="11.47" x2="409.1" y2="11.47" stroke="#000" stroke-width="0.9"/>
<line x1="241.8" y1="9.92" x2="243.6" y2="9.92" stroke="#000" stroke-width="0.9"/>
<line x1="410.9" y1="9.92" x2="409.1" y2="9.92" stroke="#000" stroke-width="0.9"/>
<line x1="241.8" y1="8.72" x2="243.6" y2="8.72" stroke="#000" stroke-width="0.9"/>
<line x1="410.9" y1="8.72" x2="409.1" y2="8.72" stroke="#000" stroke-width="0.9"/>
<line x1="241.8" y1="7.74" x2="243.6" y2="7.74" stroke="#000" stroke-width="0.9"/>
<line x1="410.9" y1="7.74" x2="409.1" y2="7.74" stroke="#000" stroke-width="0.9"/>
<line x1="241.8" y1="6.92" x2="243.6" y2="6.92" stroke="#000" stroke-width="0.9"/>
<line x1="410.9" y1="6.92" x2="409.1" y2="6.92" stroke="#000" stroke-width="0.9"/>
<line x1="241.8" y1="6.2" x2="243.6" y2="6.2" stroke="#000" stroke-width="0.9"/>
<line x1="410.9" y1="6.2" x2="409.1" y2="6.2" stroke="#000" stroke-width="0.9"/>
<line x1="241.8" y1="5.57" x2="243.6" y2="5.57" stroke="#000" stroke-width="0.9"/>
<line x1="410.9" y1="5.57" x2="409.1" y2="5.57" stroke="#000" stroke-width="0.9"/>
<text x="239.95" y="161.7" font-family="'Liberation Sans', Arial, sans-serif" font-size="7.4" font-weight="bold" text-anchor="start" fill="#000" stroke="#000" stroke-width="0.3" textLength="3.7" lengthAdjust="spacingAndGlyphs">0</text>
<text x="266.31" y="161.7" font-family="'Liberation Sans', Arial, sans-serif" font-size="7.4" font-weight="bold" text-anchor="start" fill="#000" stroke="#000" stroke-width="0.3" textLength="7.41" lengthAdjust="spacingAndGlyphs">50</text>
<text x="292.54" y="161.7" font-family="'Liberation Sans', Arial, sans-serif" font-size="7.4" font-weight="bold" text-anchor="start" fill="#000" stroke="#000" stroke-width="0.3" textLength="11.11" lengthAdjust="spacingAndGlyphs">100</text>
<text x="320.72" y="161.7" font-family="'Liberation Sans', Arial, sans-serif" font-size="7.4" font-weight="bold" text-anchor="start" fill="#000" stroke="#000" stroke-width="0.3" textLength="11.11" lengthAdjust="spacingAndGlyphs">150</text>
<text x="349" y="161.7" font-family="'Liberation Sans', Arial, sans-serif" font-size="7.4" font-weight="bold" text-anchor="start" fill="#000" stroke="#000" stroke-width="0.3" textLength="11.11" lengthAdjust="spacingAndGlyphs">200</text>
<text x="377.18" y="161.7" font-family="'Liberation Sans', Arial, sans-serif" font-size="7.4" font-weight="bold" text-anchor="start" fill="#000" stroke="#000" stroke-width="0.3" textLength="11.11" lengthAdjust="spacingAndGlyphs">250</text>
<text x="405.4" y="161.7" font-family="'Liberation Sans', Arial, sans-serif" font-size="7.4" font-weight="bold" text-anchor="start" fill="#000" stroke="#000" stroke-width="0.3" textLength="11.11" lengthAdjust="spacingAndGlyphs">300</text>
<text x="229.64" y="156.15" font-family="'Liberation Sans', Arial, sans-serif" font-size="7.4" font-weight="bold" text-anchor="start" fill="#000" stroke="#000" stroke-width="0.3" textLength="7.17" lengthAdjust="spacingAndGlyphs">10</text>
<text x="236.84" y="152.55" font-family="'Liberation Sans', Arial, sans-serif" font-size="4.2" font-weight="bold" text-anchor="start" fill="#000" stroke="#000" stroke-width="0.3" textLength="2.42" lengthAdjust="spacingAndGlyphs">-4</text>
<text x="229.64" y="131.42" font-family="'Liberation Sans', Arial, sans-serif" font-size="7.4" font-weight="bold" text-anchor="start" fill="#000" stroke="#000" stroke-width="0.3" textLength="7.17" lengthAdjust="spacingAndGlyphs">10</text>
<text x="236.84" y="127.82" font-family="'Liberation Sans', Arial, sans-serif" font-size="4.2" font-weight="bold" text-anchor="start" fill="#000" stroke="#000" stroke-width="0.3" textLength="2.52" lengthAdjust="spacingAndGlyphs">-2</text>
<text x="231.09" y="106.68" font-family="'Liberation Sans', Arial, sans-serif" font-size="7.4" font-weight="bold" text-anchor="start" fill="#000" stroke="#000" stroke-width="0.3" textLength="6.4" lengthAdjust="spacingAndGlyphs">10</text>
<text x="237.53" y="103.08" font-family="'Liberation Sans', Arial, sans-serif" font-size="4.2" font-weight="bold" text-anchor="start" fill="#000" stroke="#000" stroke-width="0.3" textLength="1.75" lengthAdjust="spacingAndGlyphs">0</text>
<text x="231.09" y="81.95" font-family="'Liberation Sans', Arial, sans-serif" font-size="7.4" font-weight="bold" text-anchor="start" fill="#000" stroke="#000" stroke-width="0.3" textLength="6.4" lengthAdjust="spacingAndGlyphs">10</text>
<text x="237.54" y="78.35" font-family="'Liberation Sans', Arial, sans-serif" font-size="4.2" font-weight="bold" text-anchor="start" fill="#000" stroke="#000" stroke-width="0.3" textLength="1.73" lengthAdjust="spacingAndGlyphs">2</text>
<text x="231.09" y="57.22" font-family="'Liberation Sans', Arial, sans-serif" font-size="7.4" font-weight="bold" text-anchor="start" fill="#000" stroke="#000" stroke-width="0.3" textLength="6.4" lengthAdjust="spacingAndGlyphs">10</text>
<text x="237.61" y="53.62" font-family="'Liberation Sans', Arial, sans-serif" font-size="4.2" font-weight="bold" text-anchor="start" fill="#000" stroke="#000" stroke-width="0.3" textLength="1.56" lengthAdjust="spacingAndGlyphs">4</text>
<text x="231.09" y="32.48" font-family="'Liberation Sans', Arial, sans-serif" font-size="7.4" font-weight="bold" text-anchor="start" fill="#000" stroke="#000" stroke-width="0.3" textLength="6.4" lengthAdjust="spacingAndGlyphs">10</text>
<text x="237.54" y="28.88" font-family="'Liberation Sans', Arial, sans-serif" font-size="4.2" font-weight="bold" text-anchor="start" fill="#000" stroke="#000" stroke-width="0.3" textLength="1.73" lengthAdjust="spacingAndGlyphs">6</text>
<text x="231.09" y="7.75" font-family="'Liberation Sans', Arial, sans-serif" font-size="7.4" font-weight="bold" text-anchor="start" fill="#000" stroke="#000" stroke-width="0.3" textLength="6.4" lengthAdjust="spacingAndGlyphs">10</text>
<text x="237.55" y="4.15" font-family="'Liberation Sans', Arial, sans-serif" font-size="4.2" font-weight="bold" text-anchor="start" fill="#000" stroke="#000" stroke-width="0.3" textLength="1.69" lengthAdjust="spacingAndGlyphs">8</text>
<text x="291.85" y="178.35" font-family="'Liberation Sans', Arial, sans-serif" font-size="10.76" font-weight="bold" text-anchor="start" fill="#000" stroke="#000" stroke-width="0.3" textLength="70.26" lengthAdjust="spacingAndGlyphs">Temperature (K)</text>
<text transform="translate(222.4,77.1) rotate(-90)" x="0" y="0" font-family="'Liberation Sans', Arial, sans-serif" font-size="10.4" font-weight="bold" text-anchor="middle" stroke="#000" stroke-width="0.3" textLength="93" lengthAdjust="spacingAndGlyphs">Resistivity (Ω<tspan font-size="6.5" dy="-1.6">*</tspan><tspan dy="1.6">cm)</tspan></text>
<text x="247.13" y="17.35" font-family="'Liberation Serif', 'Times New Roman', serif" font-size="12" font-weight="bold" text-anchor="start" fill="#000" textLength="14.55" lengthAdjust="spacingAndGlyphs">(b)</text>
<text x="320.87" y="28.85" font-family="'Liberation Sans', Arial, sans-serif" font-size="9.01" font-weight="bold" text-anchor="start" fill="#000" stroke="#000" stroke-width="0.3" textLength="41.91" lengthAdjust="spacingAndGlyphs">3% Co: TiO</text>
<text x="362.75" y="32.45" font-family="'Liberation Sans', Arial, sans-serif" font-size="6" font-weight="bold" text-anchor="start" fill="#000" stroke="#000" stroke-width="0.3" textLength="3.23" lengthAdjust="spacingAndGlyphs">2</text>
<text x="280.37" y="129.55" font-family="'Liberation Sans', Arial, sans-serif" font-size="7.85" font-weight="bold" text-anchor="start" fill="#000" stroke="#000" stroke-width="0.3" textLength="66.7" lengthAdjust="spacingAndGlyphs">3%Co, 1% Nb: TiO</text>
<text x="346.97" y="132.35" font-family="'Liberation Sans', Arial, sans-serif" font-size="5.5" font-weight="bold" text-anchor="start" fill="#000" stroke="#000" stroke-width="0.3" textLength="2.89" lengthAdjust="spacingAndGlyphs">2</text>
<polyline points="27.3,325.45 33.4,325.06 41.4,327.41 50.4,321.97 58.4,323.01 63.9,321.05 69.4,316.52 74.4,312.7 77.9,309.11 81.4,304.52 84.9,299 88.4,292 91.9,284.5 94.9,277 97.4,270 100.01,263 102.88,256.5 106.24,250 110.1,243.5 113.8,238 117.3,233.5 120.8,230.5 124.8,227.5 129.8,225 136.5,222.5 140,221 154.4,219.1 168.8,217.6 183.2,216.6 197.3,216.2" fill="none" stroke="#3a3af5" stroke-width="0.9" stroke-linejoin="round"/>
<polyline points="27.3,329.23 37.1,329.14 45.7,328.86 54.8,327.25 62.7,326.99 71.6,325.49 78.6,324.35 87.1,321.77 93.6,319.5 98.9,315.5 103.6,312 108.1,308.5 111.6,304.5 115.1,300 118.1,295.5 120.6,291 123.1,285.5 125.2,279 127.1,273 128.8,267 130.6,261.5 132.4,256.5 134.6,251.5 137.1,247 140.1,242.5 143.1,238.5 147.1,234 151.6,230 156.6,226.2 161.6,223.5 167.6,220.98 173.6,218.96 184.6,217.56 196.9,217.21" fill="none" stroke="#3a3af5" stroke-width="0.9" stroke-linejoin="round"/>
<rect x="26.55" y="324.7" width="1.5" height="1.5" fill="#3a3af5"/>
<rect x="32.65" y="324.31" width="1.5" height="1.5" fill="#3a3af5"/>
<rect x="40.65" y="326.66" width="1.5" height="1.5" fill="#3a3af5"/>
<rect x="49.65" y="321.22" width="1.5" height="1.5" fill="#3a3af5"/>
<rect x="57.65" y="322.26" width="1.5" height="1.5" fill="#3a3af5"/>
<rect x="63.15" y="320.3" width="1.5" height="1.5" fill="#3a3af5"/>
<rect x="68.65" y="315.77" width="1.5" height="1.5" fill="#3a3af5"/>
<rect x="73.65" y="311.95" width="1.5" height="1.5" fill="#3a3af5"/>
<rect x="77.15" y="308.36" width="1.5" height="1.5" fill="#3a3af5"/>
<rect x="80.65" y="303.77" width="1.5" height="1.5" fill="#3a3af5"/>
<rect x="84.15" y="298.25" width="1.5" height="1.5" fill="#3a3af5"/>
<rect x="87.65" y="291.25" width="1.5" height="1.5" fill="#3a3af5"/>
<rect x="91.15" y="283.75" width="1.5" height="1.5" fill="#3a3af5"/>
<rect x="94.15" y="276.25" width="1.5" height="1.5" fill="#3a3af5"/>
<rect x="96.65" y="269.25" width="1.5" height="1.5" fill="#3a3af5"/>
<rect x="99.26" y="262.25" width="1.5" height="1.5" fill="#3a3af5"/>
<rect x="102.13" y="255.75" width="1.5" height="1.5" fill="#3a3af5"/>
<rect x="105.49" y="249.25" width="1.5" height="1.5" fill="#3a3af5"/>
<rect x="109.35" y="242.75" width="1.5" height="1.5" fill="#3a3af5"/>
<rect x="113.05" y="237.25" width="1.5" height="1.5" fill="#3a3af5"/>
<rect x="116.55" y="232.75" width="1.5" height="1.5" fill="#3a3af5"/>
<rect x="120.05" y="229.75" width="1.5" height="1.5" fill="#3a3af5"/>
<rect x="124.05" y="226.75" width="1.5" height="1.5" fill="#3a3af5"/>
<rect x="129.05" y="224.25" width="1.5" height="1.5" fill="#3a3af5"/>
<rect x="135.75" y="221.75" width="1.5" height="1.5" fill="#3a3af5"/>
<rect x="139.25" y="220.25" width="1.5" height="1.5" fill="#3a3af5"/>
<rect x="153.65" y="218.35" width="1.5" height="1.5" fill="#3a3af5"/>
<rect x="168.05" y="216.85" width="1.5" height="1.5" fill="#3a3af5"/>
<rect x="182.45" y="215.85" width="1.5" height="1.5" fill="#3a3af5"/>
<rect x="196.55" y="215.45" width="1.5" height="1.5" fill="#3a3af5"/>
<rect x="26.55" y="328.48" width="1.5" height="1.5" fill="#3a3af5"/>
<rect x="36.35" y="328.39" width="1.5" height="1.5" fill="#3a3af5"/>
<rect x="44.95" y="328.11" width="1.5" height="1.5" fill="#3a3af5"/>
<rect x="54.05" y="326.5" width="1.5" height="1.5" fill="#3a3af5"/>
<rect x="61.95" y="326.24" width="1.5" height="1.5" fill="#3a3af5"/>
<rect x="70.85" y="324.74" width="1.5" height="1.5" fill="#3a3af5"/>
<rect x="77.85" y="323.6" width="1.5" height="1.5" fill="#3a3af5"/>
<rect x="86.35" y="321.02" width="1.5" height="1.5" fill="#3a3af5"/>
<rect x="92.85" y="318.75" width="1.5" height="1.5" fill="#3a3af5"/>
<rect x="98.15" y="314.75" width="1.5" height="1.5" fill="#3a3af5"/>
<rect x="102.85" y="311.25" width="1.5" height="1.5" fill="#3a3af5"/>
<rect x="107.35" y="307.75" width="1.5" height="1.5" fill="#3a3af5"/>
<rect x="110.85" y="303.75" width="1.5" height="1.5" fill="#3a3af5"/>
<rect x="114.35" y="299.25" width="1.5" height="1.5" fill="#3a3af5"/>
<rect x="117.35" y="294.75" width="1.5" height="1.5" fill="#3a3af5"/>
<rect x="119.85" y="290.25" width="1.5" height="1.5" fill="#3a3af5"/>
<rect x="122.35" y="284.75" width="1.5" height="1.5" fill="#3a3af5"/>
<rect x="124.45" y="278.25" width="1.5" height="1.5" fill="#3a3af5"/>
<rect x="126.35" y="272.25" width="1.5" height="1.5" fill="#3a3af5"/>
<rect x="128.05" y="266.25" width="1.5" height="1.5" fill="#3a3af5"/>
<rect x="129.85" y="260.75" width="1.5" height="1.5" fill="#3a3af5"/>
<rect x="131.65" y="255.75" width="1.5" height="1.5" fill="#3a3af5"/>
<rect x="133.85" y="250.75" width="1.5" height="1.5" fill="#3a3af5"/>
<rect x="136.35" y="246.25" width="1.5" height="1.5" fill="#3a3af5"/>
<rect x="139.35" y="241.75" width="1.5" height="1.5" fill="#3a3af5"/>
<rect x="142.35" y="237.75" width="1.5" height="1.5" fill="#3a3af5"/>
<rect x="146.35" y="233.25" width="1.5" height="1.5" fill="#3a3af5"/>
<rect x="150.85" y="229.25" width="1.5" height="1.5" fill="#3a3af5"/>
<rect x="155.85" y="225.45" width="1.5" height="1.5" fill="#3a3af5"/>
<rect x="160.85" y="222.75" width="1.5" height="1.5" fill="#3a3af5"/>
<rect x="166.85" y="220.23" width="1.5" height="1.5" fill="#3a3af5"/>
<rect x="172.85" y="218.21" width="1.5" height="1.5" fill="#3a3af5"/>
<rect x="183.85" y="216.81" width="1.5" height="1.5" fill="#3a3af5"/>
<rect x="196.15" y="216.46" width="1.5" height="1.5" fill="#3a3af5"/>
<polyline points="27.3,328.45 34.5,328 42.5,329.88 51.5,323.07 59.5,325.21 65,322.64 70.5,318.19 75.5,313.5 79,309.56 82.5,304.62 86,299 89.5,292 93,284.5 96,277 98.5,270 100.88,263 102.99,256.5 105.6,250 108.71,243.5 112,238 115.5,233.5 119,230.5 123,227.5 128,225 134.7,222.5 140,219.4 147,217.6 154.4,216.9 160,217.8 164.5,219.4 171.7,220.4 180.3,221.1 184,220.3 187.5,219.7 191.8,219.4 197.3,221.8" fill="none" stroke="#f51e1e" stroke-width="1.4" stroke-linejoin="round"/>
<polyline points="27.3,331.38 38.3,330.39 46.9,329.88 56,329.6 63.9,328.23 72.8,326.82 79.8,325.52 88.3,322.18 94.8,319.5 100.1,315.5 104.8,312 109.3,308.5 112.8,304.5 116.3,300 119.3,295.5 121.8,291 124.3,285.5 126.4,279 128.3,273 130,267 131.8,261.5 133.6,256.5 135.8,251.5 138.3,247 141.3,242.5 144.3,238.5 148.3,234 152.8,230 157.8,226.2 162.8,223.5 168.8,221 174.8,221.65 185.8,220.99 196.9,222.63" fill="none" stroke="#f51e1e" stroke-width="1.4" stroke-linejoin="round"/>
<rect x="26.55" y="327.7" width="1.5" height="1.5" fill="#f51e1e"/>
<rect x="33.75" y="327.25" width="1.5" height="1.5" fill="#f51e1e"/>
<rect x="41.75" y="329.13" width="1.5" height="1.5" fill="#f51e1e"/>
<rect x="50.75" y="322.32" width="1.5" height="1.5" fill="#f51e1e"/>
<rect x="58.75" y="324.46" width="1.5" height="1.5" fill="#f51e1e"/>
<rect x="64.25" y="321.89" width="1.5" height="1.5" fill="#f51e1e"/>
<rect x="69.75" y="317.44" width="1.5" height="1.5" fill="#f51e1e"/>
<rect x="74.75" y="312.75" width="1.5" height="1.5" fill="#f51e1e"/>
<rect x="78.25" y="308.81" width="1.5" height="1.5" fill="#f51e1e"/>
<rect x="81.75" y="303.88" width="1.5" height="1.5" fill="#f51e1e"/>
<rect x="85.25" y="298.25" width="1.5" height="1.5" fill="#f51e1e"/>
<rect x="88.75" y="291.25" width="1.5" height="1.5" fill="#f51e1e"/>
<rect x="92.25" y="283.75" width="1.5" height="1.5" fill="#f51e1e"/>
<rect x="95.25" y="276.25" width="1.5" height="1.5" fill="#f51e1e"/>
<rect x="97.75" y="269.25" width="1.5" height="1.5" fill="#f51e1e"/>
<rect x="100.13" y="262.25" width="1.5" height="1.5" fill="#f51e1e"/>
<rect x="102.24" y="255.75" width="1.5" height="1.5" fill="#f51e1e"/>
<rect x="104.85" y="249.25" width="1.5" height="1.5" fill="#f51e1e"/>
<rect x="107.96" y="242.75" width="1.5" height="1.5" fill="#f51e1e"/>
<rect x="111.25" y="237.25" width="1.5" height="1.5" fill="#f51e1e"/>
<rect x="114.75" y="232.75" width="1.5" height="1.5" fill="#f51e1e"/>
<rect x="118.25" y="229.75" width="1.5" height="1.5" fill="#f51e1e"/>
<rect x="122.25" y="226.75" width="1.5" height="1.5" fill="#f51e1e"/>
<rect x="127.25" y="224.25" width="1.5" height="1.5" fill="#f51e1e"/>
<rect x="133.95" y="221.75" width="1.5" height="1.5" fill="#f51e1e"/>
<rect x="139.25" y="218.65" width="1.5" height="1.5" fill="#f51e1e"/>
<rect x="146.25" y="216.85" width="1.5" height="1.5" fill="#f51e1e"/>
<rect x="153.65" y="216.15" width="1.5" height="1.5" fill="#f51e1e"/>
<rect x="159.25" y="217.05" width="1.5" height="1.5" fill="#f51e1e"/>
<rect x="163.75" y="218.65" width="1.5" height="1.5" fill="#f51e1e"/>
<rect x="170.95" y="219.65" width="1.5" height="1.5" fill="#f51e1e"/>
<rect x="179.55" y="220.35" width="1.5" height="1.5" fill="#f51e1e"/>
<rect x="183.25" y="219.55" width="1.5" height="1.5" fill="#f51e1e"/>
<rect x="186.75" y="218.95" width="1.5" height="1.5" fill="#f51e1e"/>
<rect x="191.05" y="218.65" width="1.5" height="1.5" fill="#f51e1e"/>
<rect x="196.55" y="221.05" width="1.5" height="1.5" fill="#f51e1e"/>
<rect x="26.55" y="330.63" width="1.5" height="1.5" fill="#f51e1e"/>
<rect x="37.55" y="329.64" width="1.5" height="1.5" fill="#f51e1e"/>
<rect x="46.15" y="329.13" width="1.5" height="1.5" fill="#f51e1e"/>
<rect x="55.25" y="328.85" width="1.5" height="1.5" fill="#f51e1e"/>
<rect x="63.15" y="327.48" width="1.5" height="1.5" fill="#f51e1e"/>
<rect x="72.05" y="326.07" width="1.5" height="1.5" fill="#f51e1e"/>
<rect x="79.05" y="324.77" width="1.5" height="1.5" fill="#f51e1e"/>
<rect x="87.55" y="321.43" width="1.5" height="1.5" fill="#f51e1e"/>
<rect x="94.05" y="318.75" width="1.5" height="1.5" fill="#f51e1e"/>
<rect x="99.35" y="314.75" width="1.5" height="1.5" fill="#f51e1e"/>
<rect x="104.05" y="311.25" width="1.5" height="1.5" fill="#f51e1e"/>
<rect x="108.55" y="307.75" width="1.5" height="1.5" fill="#f51e1e"/>
<rect x="112.05" y="303.75" width="1.5" height="1.5" fill="#f51e1e"/>
<rect x="115.55" y="299.25" width="1.5" height="1.5" fill="#f51e1e"/>
<rect x="118.55" y="294.75" width="1.5" height="1.5" fill="#f51e1e"/>
<rect x="121.05" y="290.25" width="1.5" height="1.5" fill="#f51e1e"/>
<rect x="123.55" y="284.75" width="1.5" height="1.5" fill="#f51e1e"/>
<rect x="125.65" y="278.25" width="1.5" height="1.5" fill="#f51e1e"/>
<rect x="127.55" y="272.25" width="1.5" height="1.5" fill="#f51e1e"/>
<rect x="129.25" y="266.25" width="1.5" height="1.5" fill="#f51e1e"/>
<rect x="131.05" y="260.75" width="1.5" height="1.5" fill="#f51e1e"/>
<rect x="132.85" y="255.75" width="1.5" height="1.5" fill="#f51e1e"/>
<rect x="135.05" y="250.75" width="1.5" height="1.5" fill="#f51e1e"/>
<rect x="137.55" y="246.25" width="1.5" height="1.5" fill="#f51e1e"/>
<rect x="140.55" y="241.75" width="1.5" height="1.5" fill="#f51e1e"/>
<rect x="143.55" y="237.75" width="1.5" height="1.5" fill="#f51e1e"/>
<rect x="147.55" y="233.25" width="1.5" height="1.5" fill="#f51e1e"/>
<rect x="152.05" y="229.25" width="1.5" height="1.5" fill="#f51e1e"/>
<rect x="157.05" y="225.45" width="1.5" height="1.5" fill="#f51e1e"/>
<rect x="162.05" y="222.75" width="1.5" height="1.5" fill="#f51e1e"/>
<rect x="168.05" y="220.25" width="1.5" height="1.5" fill="#f51e1e"/>
<rect x="174.05" y="220.9" width="1.5" height="1.5" fill="#f51e1e"/>
<rect x="185.05" y="220.24" width="1.5" height="1.5" fill="#f51e1e"/>
<rect x="196.15" y="221.88" width="1.5" height="1.5" fill="#f51e1e"/>
<polyline points="27.3,326.17 36.6,325.11 44.6,327.61 53.6,322.83 61.6,323.82 67.1,321.44 72.6,317.28 77.6,312.9 81.1,309.23 84.6,304.55 88.1,299 91.6,292 95.1,284.5 98.1,277 100.6,270 103.1,263 105.6,256.5 108.6,250 112.1,243.5 115.6,238 119.1,233.5 122.6,230.5 126.6,227.5 131.6,225 138.3,222.5 140,220.6 154.4,218.6 168.8,216.8 183.2,215.7 197.3,215.1" fill="none" stroke="#3ee83e" stroke-width="1.2" stroke-linejoin="round"/>
<polyline points="27.3,329.42 34.3,329.04 42.9,329.3 52,327.23 59.9,326.77 68.8,325.1 75.8,324.35 84.3,321.77 90.8,319.5 96.1,315.5 100.8,312 105.3,308.5 108.8,304.5 112.3,300 115.3,295.5 117.8,291 120.3,285.5 122.4,279 124.3,273 126,267 127.8,261.5 129.6,256.5 131.8,251.5 134.3,247 137.3,242.5 140.3,238.5 144.3,234 148.8,230 153.8,226.2 158.8,223.5 164.8,220.68 170.8,218.59 181.8,216.81 196.9,216.12" fill="none" stroke="#3ee83e" stroke-width="1.2" stroke-linejoin="round"/>
<rect x="26.55" y="325.42" width="1.5" height="1.5" fill="#3ee83e"/>
<rect x="35.85" y="324.36" width="1.5" height="1.5" fill="#3ee83e"/>
<rect x="43.85" y="326.86" width="1.5" height="1.5" fill="#3ee83e"/>
<rect x="52.85" y="322.08" width="1.5" height="1.5" fill="#3ee83e"/>
<rect x="60.85" y="323.07" width="1.5" height="1.5" fill="#3ee83e"/>
<rect x="66.35" y="320.69" width="1.5" height="1.5" fill="#3ee83e"/>
<rect x="71.85" y="316.53" width="1.5" height="1.5" fill="#3ee83e"/>
<rect x="76.85" y="312.15" width="1.5" height="1.5" fill="#3ee83e"/>
<rect x="80.35" y="308.48" width="1.5" height="1.5" fill="#3ee83e"/>
<rect x="83.85" y="303.8" width="1.5" height="1.5" fill="#3ee83e"/>
<rect x="87.35" y="298.25" width="1.5" height="1.5" fill="#3ee83e"/>
<rect x="90.85" y="291.25" width="1.5" height="1.5" fill="#3ee83e"/>
<rect x="94.35" y="283.75" width="1.5" height="1.5" fill="#3ee83e"/>
<rect x="97.35" y="276.25" width="1.5" height="1.5" fill="#3ee83e"/>
<rect x="99.85" y="269.25" width="1.5" height="1.5" fill="#3ee83e"/>
<rect x="102.35" y="262.25" width="1.5" height="1.5" fill="#3ee83e"/>
<rect x="104.85" y="255.75" width="1.5" height="1.5" fill="#3ee83e"/>
<rect x="107.85" y="249.25" width="1.5" height="1.5" fill="#3ee83e"/>
<rect x="111.35" y="242.75" width="1.5" height="1.5" fill="#3ee83e"/>
<rect x="114.85" y="237.25" width="1.5" height="1.5" fill="#3ee83e"/>
<rect x="118.35" y="232.75" width="1.5" height="1.5" fill="#3ee83e"/>
<rect x="121.85" y="229.75" width="1.5" height="1.5" fill="#3ee83e"/>
<rect x="125.85" y="226.75" width="1.5" height="1.5" fill="#3ee83e"/>
<rect x="130.85" y="224.25" width="1.5" height="1.5" fill="#3ee83e"/>
<rect x="137.55" y="221.75" width="1.5" height="1.5" fill="#3ee83e"/>
<rect x="139.25" y="219.85" width="1.5" height="1.5" fill="#3ee83e"/>
<rect x="153.65" y="217.85" width="1.5" height="1.5" fill="#3ee83e"/>
<rect x="168.05" y="216.05" width="1.5" height="1.5" fill="#3ee83e"/>
<rect x="182.45" y="214.95" width="1.5" height="1.5" fill="#3ee83e"/>
<rect x="196.55" y="214.35" width="1.5" height="1.5" fill="#3ee83e"/>
<rect x="26.55" y="328.67" width="1.5" height="1.5" fill="#3ee83e"/>
<rect x="33.55" y="328.29" width="1.5" height="1.5" fill="#3ee83e"/>
<rect x="42.15" y="328.55" width="1.5" height="1.5" fill="#3ee83e"/>
<rect x="51.25" y="326.48" width="1.5" height="1.5" fill="#3ee83e"/>
<rect x="59.15" y="326.02" width="1.5" height="1.5" fill="#3ee83e"/>
<rect x="68.05" y="324.35" width="1.5" height="1.5" fill="#3ee83e"/>
<rect x="75.05" y="323.6" width="1.5" height="1.5" fill="#3ee83e"/>
<rect x="83.55" y="321.02" width="1.5" height="1.5" fill="#3ee83e"/>
<rect x="90.05" y="318.75" width="1.5" height="1.5" fill="#3ee83e"/>
<rect x="95.35" y="314.75" width="1.5" height="1.5" fill="#3ee83e"/>
<rect x="100.05" y="311.25" width="1.5" height="1.5" fill="#3ee83e"/>
<rect x="104.55" y="307.75" width="1.5" height="1.5" fill="#3ee83e"/>
<rect x="108.05" y="303.75" width="1.5" height="1.5" fill="#3ee83e"/>
<rect x="111.55" y="299.25" width="1.5" height="1.5" fill="#3ee83e"/>
<rect x="114.55" y="294.75" width="1.5" height="1.5" fill="#3ee83e"/>
<rect x="117.05" y="290.25" width="1.5" height="1.5" fill="#3ee83e"/>
<rect x="119.55" y="284.75" width="1.5" height="1.5" fill="#3ee83e"/>
<rect x="121.65" y="278.25" width="1.5" height="1.5" fill="#3ee83e"/>
<rect x="123.55" y="272.25" width="1.5" height="1.5" fill="#3ee83e"/>
<rect x="125.25" y="266.25" width="1.5" height="1.5" fill="#3ee83e"/>
<rect x="127.05" y="260.75" width="1.5" height="1.5" fill="#3ee83e"/>
<rect x="128.85" y="255.75" width="1.5" height="1.5" fill="#3ee83e"/>
<rect x="131.05" y="250.75" width="1.5" height="1.5" fill="#3ee83e"/>
<rect x="133.55" y="246.25" width="1.5" height="1.5" fill="#3ee83e"/>
<rect x="136.55" y="241.75" width="1.5" height="1.5" fill="#3ee83e"/>
<rect x="139.55" y="237.75" width="1.5" height="1.5" fill="#3ee83e"/>
<rect x="143.55" y="233.25" width="1.5" height="1.5" fill="#3ee83e"/>
<rect x="148.05" y="229.25" width="1.5" height="1.5" fill="#3ee83e"/>
<rect x="153.05" y="225.45" width="1.5" height="1.5" fill="#3ee83e"/>
<rect x="158.05" y="222.75" width="1.5" height="1.5" fill="#3ee83e"/>
<rect x="164.05" y="219.93" width="1.5" height="1.5" fill="#3ee83e"/>
<rect x="170.05" y="217.84" width="1.5" height="1.5" fill="#3ee83e"/>
<rect x="181.05" y="216.06" width="1.5" height="1.5" fill="#3ee83e"/>
<rect x="196.15" y="215.37" width="1.5" height="1.5" fill="#3ee83e"/>
<polyline points="27.3,325.89 38.7,325.61 46.7,327.27 55.7,322.47 63.7,323.65 69.2,321.26 74.7,317.21 79.7,312.82 83.2,309.18 86.7,304.54 90.2,299 93.7,292 97.2,284.5 100.2,277 102.7,270 105.2,263 107.7,256.5 110.7,250 114.2,243.5 117.7,238 121.2,233.5 124.7,230.5 128.7,227.5 133.7,225 140,221.6 154.4,219.7 168.8,218.2 183.2,216.8 197.3,216.5" fill="none" stroke="#1ee6f0" stroke-width="2" stroke-linejoin="round"/>
<polyline points="27.3,327.37 32.8,327.05 41.4,326.84 50.5,325.72 58.4,324.98 67.3,323.38 74.3,323.05 82.8,321.32 89.3,319.5 94.6,315.5 99.3,312 103.8,308.5 107.3,304.5 110.8,300 113.8,295.5 116.3,291 118.8,285.5 120.9,279 122.8,273 124.5,267 126.3,261.5 128.1,256.5 130.3,251.5 132.8,247 135.8,242.5 138.8,238.5 142.8,234 147.3,230 152.3,226.2 157.3,223.5 163.3,221.28 169.3,219.2 180.3,218.08 196.9,217.51" fill="none" stroke="#1ee6f0" stroke-width="2" stroke-linejoin="round"/>
<polyline points="27.3,323.71 37.2,322.85 45.2,324.7 54.2,321.49 62.2,321.69 67.7,320.03 73.2,315.98 78.2,312.1 81.7,308.77 85.2,304.45 88.7,299 92.2,292 95.7,284.5 98.7,277 101.2,270 103.7,263 106.2,256.5 109.2,250 112.7,243.5 116.2,238 119.7,233.5 123.2,230.5 127.2,227.5 132.2,225 138.9,222.5 140,219.6 147,217.7 154.4,216.1 161.6,214.6 168.8,213.2 174.5,212.5 180.3,211.7 188,210.2 197.3,208.4" fill="none" stroke="#101010" stroke-width="0.9" stroke-linejoin="round"/>
<polyline points="27.3,330.8 35.7,329.43 44.3,330.64 53.4,328.28 61.3,329.12 70.2,326.05 77.2,325.13 85.7,322.05 92.2,319.5 97.5,315.5 102.2,312 106.7,308.5 110.2,304.5 113.7,300 116.7,295.5 119.2,291 121.7,285.5 123.8,279 125.7,273 127.4,267 129.2,261.5 131,256.5 133.2,251.5 135.7,247 138.7,242.5 141.7,238.5 145.7,234 150.2,230 155.2,226.2 160.2,223.5 166.2,221.55 172.2,218.3 183.2,217.98 196.9,216.28" fill="none" stroke="#101010" stroke-width="0.9" stroke-linejoin="round"/>
<line x1="27.3" y1="322.31" x2="27.3" y2="325.11" stroke="#101010" stroke-width="0.9"/>
<line x1="37.2" y1="321.45" x2="37.2" y2="324.25" stroke="#101010" stroke-width="0.9"/>
<line x1="45.2" y1="323.3" x2="45.2" y2="326.1" stroke="#101010" stroke-width="0.9"/>
<line x1="54.2" y1="320.09" x2="54.2" y2="322.89" stroke="#101010" stroke-width="0.9"/>
<line x1="62.2" y1="320.29" x2="62.2" y2="323.09" stroke="#101010" stroke-width="0.9"/>
<line x1="67.7" y1="318.63" x2="67.7" y2="321.43" stroke="#101010" stroke-width="0.9"/>
<line x1="73.2" y1="314.58" x2="73.2" y2="317.38" stroke="#101010" stroke-width="0.9"/>
<line x1="78.2" y1="310.7" x2="78.2" y2="313.5" stroke="#101010" stroke-width="0.9"/>
<line x1="81.7" y1="307.38" x2="81.7" y2="310.17" stroke="#101010" stroke-width="0.9"/>
<line x1="85.2" y1="303.05" x2="85.2" y2="305.85" stroke="#101010" stroke-width="0.9"/>
<line x1="88.7" y1="297.6" x2="88.7" y2="300.4" stroke="#101010" stroke-width="0.9"/>
<line x1="92.2" y1="290.6" x2="92.2" y2="293.4" stroke="#101010" stroke-width="0.9"/>
<line x1="95.7" y1="283.1" x2="95.7" y2="285.9" stroke="#101010" stroke-width="0.9"/>
<line x1="98.7" y1="275.6" x2="98.7" y2="278.4" stroke="#101010" stroke-width="0.9"/>
<line x1="101.2" y1="268.6" x2="101.2" y2="271.4" stroke="#101010" stroke-width="0.9"/>
<line x1="103.7" y1="261.6" x2="103.7" y2="264.4" stroke="#101010" stroke-width="0.9"/>
<line x1="106.2" y1="255.1" x2="106.2" y2="257.9" stroke="#101010" stroke-width="0.9"/>
<line x1="109.2" y1="248.6" x2="109.2" y2="251.4" stroke="#101010" stroke-width="0.9"/>
<line x1="112.7" y1="242.1" x2="112.7" y2="244.9" stroke="#101010" stroke-width="0.9"/>
<line x1="116.2" y1="236.6" x2="116.2" y2="239.4" stroke="#101010" stroke-width="0.9"/>
<line x1="119.7" y1="232.1" x2="119.7" y2="234.9" stroke="#101010" stroke-width="0.9"/>
<line x1="123.2" y1="229.1" x2="123.2" y2="231.9" stroke="#101010" stroke-width="0.9"/>
<line x1="127.2" y1="226.1" x2="127.2" y2="228.9" stroke="#101010" stroke-width="0.9"/>
<line x1="132.2" y1="223.6" x2="132.2" y2="226.4" stroke="#101010" stroke-width="0.9"/>
<line x1="138.9" y1="221.1" x2="138.9" y2="223.9" stroke="#101010" stroke-width="0.9"/>
<line x1="140" y1="218.2" x2="140" y2="221" stroke="#101010" stroke-width="0.9"/>
<line x1="147" y1="216.3" x2="147" y2="219.1" stroke="#101010" stroke-width="0.9"/>
<line x1="154.4" y1="214.7" x2="154.4" y2="217.5" stroke="#101010" stroke-width="0.9"/>
<line x1="161.6" y1="213.2" x2="161.6" y2="216" stroke="#101010" stroke-width="0.9"/>
<line x1="168.8" y1="211.8" x2="168.8" y2="214.6" stroke="#101010" stroke-width="0.9"/>
<line x1="174.5" y1="211.1" x2="174.5" y2="213.9" stroke="#101010" stroke-width="0.9"/>
<line x1="180.3" y1="210.3" x2="180.3" y2="213.1" stroke="#101010" stroke-width="0.9"/>
<line x1="188" y1="208.8" x2="188" y2="211.6" stroke="#101010" stroke-width="0.9"/>
<line x1="197.3" y1="207" x2="197.3" y2="209.8" stroke="#101010" stroke-width="0.9"/>
<line x1="27.3" y1="329.4" x2="27.3" y2="332.2" stroke="#101010" stroke-width="0.9"/>
<line x1="35.7" y1="328.03" x2="35.7" y2="330.83" stroke="#101010" stroke-width="0.9"/>
<line x1="44.3" y1="329.24" x2="44.3" y2="332.04" stroke="#101010" stroke-width="0.9"/>
<line x1="53.4" y1="326.88" x2="53.4" y2="329.68" stroke="#101010" stroke-width="0.9"/>
<line x1="61.3" y1="327.72" x2="61.3" y2="330.52" stroke="#101010" stroke-width="0.9"/>
<line x1="70.2" y1="324.65" x2="70.2" y2="327.45" stroke="#101010" stroke-width="0.9"/>
<line x1="77.2" y1="323.73" x2="77.2" y2="326.53" stroke="#101010" stroke-width="0.9"/>
<line x1="85.7" y1="320.65" x2="85.7" y2="323.44" stroke="#101010" stroke-width="0.9"/>
<line x1="92.2" y1="318.1" x2="92.2" y2="320.9" stroke="#101010" stroke-width="0.9"/>
<line x1="97.5" y1="314.1" x2="97.5" y2="316.9" stroke="#101010" stroke-width="0.9"/>
<line x1="102.2" y1="310.6" x2="102.2" y2="313.4" stroke="#101010" stroke-width="0.9"/>
<line x1="106.7" y1="307.1" x2="106.7" y2="309.9" stroke="#101010" stroke-width="0.9"/>
<line x1="110.2" y1="303.1" x2="110.2" y2="305.9" stroke="#101010" stroke-width="0.9"/>
<line x1="113.7" y1="298.6" x2="113.7" y2="301.4" stroke="#101010" stroke-width="0.9"/>
<line x1="116.7" y1="294.1" x2="116.7" y2="296.9" stroke="#101010" stroke-width="0.9"/>
<line x1="119.2" y1="289.6" x2="119.2" y2="292.4" stroke="#101010" stroke-width="0.9"/>
<line x1="121.7" y1="284.1" x2="121.7" y2="286.9" stroke="#101010" stroke-width="0.9"/>
<line x1="123.8" y1="277.6" x2="123.8" y2="280.4" stroke="#101010" stroke-width="0.9"/>
<line x1="125.7" y1="271.6" x2="125.7" y2="274.4" stroke="#101010" stroke-width="0.9"/>
<line x1="127.4" y1="265.6" x2="127.4" y2="268.4" stroke="#101010" stroke-width="0.9"/>
<line x1="129.2" y1="260.1" x2="129.2" y2="262.9" stroke="#101010" stroke-width="0.9"/>
<line x1="131" y1="255.1" x2="131" y2="257.9" stroke="#101010" stroke-width="0.9"/>
<line x1="133.2" y1="250.1" x2="133.2" y2="252.9" stroke="#101010" stroke-width="0.9"/>
<line x1="135.7" y1="245.6" x2="135.7" y2="248.4" stroke="#101010" stroke-width="0.9"/>
<line x1="138.7" y1="241.1" x2="138.7" y2="243.9" stroke="#101010" stroke-width="0.9"/>
<line x1="141.7" y1="237.1" x2="141.7" y2="239.9" stroke="#101010" stroke-width="0.9"/>
<line x1="145.7" y1="232.6" x2="145.7" y2="235.4" stroke="#101010" stroke-width="0.9"/>
<line x1="150.2" y1="228.6" x2="150.2" y2="231.4" stroke="#101010" stroke-width="0.9"/>
<line x1="155.2" y1="224.8" x2="155.2" y2="227.6" stroke="#101010" stroke-width="0.9"/>
<line x1="160.2" y1="222.1" x2="160.2" y2="224.9" stroke="#101010" stroke-width="0.9"/>
<line x1="166.2" y1="220.15" x2="166.2" y2="222.95" stroke="#101010" stroke-width="0.9"/>
<line x1="172.2" y1="216.9" x2="172.2" y2="219.7" stroke="#101010" stroke-width="0.9"/>
<line x1="183.2" y1="216.58" x2="183.2" y2="219.38" stroke="#101010" stroke-width="0.9"/>
<line x1="196.9" y1="214.88" x2="196.9" y2="217.68" stroke="#101010" stroke-width="0.9"/>
<rect x="27.3" y="198.5" width="170" height="150.1" fill="none" stroke="#222" stroke-width="1.0"/>
<line x1="27.3" y1="348.6" x2="27.3" y2="346.2" stroke="#222" stroke-width="0.8"/>
<line x1="27.3" y1="198.5" x2="27.3" y2="200.9" stroke="#222" stroke-width="0.8"/>
<line x1="48.55" y1="348.6" x2="48.55" y2="347.3" stroke="#222" stroke-width="0.8"/>
<line x1="48.55" y1="198.5" x2="48.55" y2="199.8" stroke="#222" stroke-width="0.8"/>
<line x1="69.8" y1="348.6" x2="69.8" y2="346.2" stroke="#222" stroke-width="0.8"/>
<line x1="69.8" y1="198.5" x2="69.8" y2="200.9" stroke="#222" stroke-width="0.8"/>
<line x1="91.05" y1="348.6" x2="91.05" y2="347.3" stroke="#222" stroke-width="0.8"/>
<line x1="91.05" y1="198.5" x2="91.05" y2="199.8" stroke="#222" stroke-width="0.8"/>
<line x1="112.3" y1="348.6" x2="112.3" y2="346.2" stroke="#222" stroke-width="0.8"/>
<line x1="112.3" y1="198.5" x2="112.3" y2="200.9" stroke="#222" stroke-width="0.8"/>
<line x1="133.55" y1="348.6" x2="133.55" y2="347.3" stroke="#222" stroke-width="0.8"/>
<line x1="133.55" y1="198.5" x2="133.55" y2="199.8" stroke="#222" stroke-width="0.8"/>
<line x1="154.8" y1="348.6" x2="154.8" y2="346.2" stroke="#222" stroke-width="0.8"/>
<line x1="154.8" y1="198.5" x2="154.8" y2="200.9" stroke="#222" stroke-width="0.8"/>
<line x1="176.05" y1="348.6" x2="176.05" y2="347.3" stroke="#222" stroke-width="0.8"/>
<line x1="176.05" y1="198.5" x2="176.05" y2="199.8" stroke="#222" stroke-width="0.8"/>
<line x1="197.3" y1="348.6" x2="197.3" y2="346.2" stroke="#222" stroke-width="0.8"/>
<line x1="197.3" y1="198.5" x2="197.3" y2="200.9" stroke="#222" stroke-width="0.8"/>
<line x1="27.3" y1="339.4" x2="29.7" y2="339.4" stroke="#222" stroke-width="0.8"/>
<line x1="197.3" y1="339.4" x2="194.9" y2="339.4" stroke="#222" stroke-width="0.8"/>
<line x1="27.3" y1="322.85" x2="28.6" y2="322.85" stroke="#222" stroke-width="0.8"/>
<line x1="197.3" y1="322.85" x2="196" y2="322.85" stroke="#222" stroke-width="0.8"/>
<line x1="27.3" y1="306.3" x2="29.7" y2="306.3" stroke="#222" stroke-width="0.8"/>
<line x1="197.3" y1="306.3" x2="194.9" y2="306.3" stroke="#222" stroke-width="0.8"/>
<line x1="27.3" y1="289.75" x2="28.6" y2="289.75" stroke="#222" stroke-width="0.8"/>
<line x1="197.3" y1="289.75" x2="196" y2="289.75" stroke="#222" stroke-width="0.8"/>
<line x1="27.3" y1="273.2" x2="29.7" y2="273.2" stroke="#222" stroke-width="0.8"/>
<line x1="197.3" y1="273.2" x2="194.9" y2="273.2" stroke="#222" stroke-width="0.8"/>
<line x1="27.3" y1="256.65" x2="28.6" y2="256.65" stroke="#222" stroke-width="0.8"/>
<line x1="197.3" y1="256.65" x2="196" y2="256.65" stroke="#222" stroke-width="0.8"/>
<line x1="27.3" y1="240.1" x2="29.7" y2="240.1" stroke="#222" stroke-width="0.8"/>
<line x1="197.3" y1="240.1" x2="194.9" y2="240.1" stroke="#222" stroke-width="0.8"/>
<line x1="27.3" y1="223.55" x2="28.6" y2="223.55" stroke="#222" stroke-width="0.8"/>
<line x1="197.3" y1="223.55" x2="196" y2="223.55" stroke="#222" stroke-width="0.8"/>
<line x1="27.3" y1="207" x2="29.7" y2="207" stroke="#222" stroke-width="0.8"/>
<line x1="197.3" y1="207" x2="194.9" y2="207" stroke="#222" stroke-width="0.8"/>
<text x="18.5" y="357.9" font-family="'Liberation Sans', Arial, sans-serif" font-size="8.1" font-weight="bold" text-anchor="start" fill="#000" stroke="#000" stroke-width="0.3" textLength="17.61" lengthAdjust="spacingAndGlyphs">-2000</text>
<text x="61" y="357.9" font-family="'Liberation Sans', Arial, sans-serif" font-size="8.1" font-weight="bold" text-anchor="start" fill="#000" stroke="#000" stroke-width="0.3" textLength="17.61" lengthAdjust="spacingAndGlyphs">-1000</text>
<text x="110.39" y="357.9" font-family="'Liberation Sans', Arial, sans-serif" font-size="8.1" font-weight="bold" text-anchor="start" fill="#000" stroke="#000" stroke-width="0.3" textLength="3.83" lengthAdjust="spacingAndGlyphs">0</text>
<text x="147.07" y="357.9" font-family="'Liberation Sans', Arial, sans-serif" font-size="8.1" font-weight="bold" text-anchor="start" fill="#000" stroke="#000" stroke-width="0.3" textLength="15.32" lengthAdjust="spacingAndGlyphs">1000</text>
<text x="189.66" y="357.9" font-family="'Liberation Sans', Arial, sans-serif" font-size="8.1" font-weight="bold" text-anchor="start" fill="#000" stroke="#000" stroke-width="0.3" textLength="15.32" lengthAdjust="spacingAndGlyphs">2000</text>
<text x="15.62" y="209.7" font-family="'Liberation Sans', Arial, sans-serif" font-size="7.8" font-weight="bold" text-anchor="start" fill="#000" stroke="#000" stroke-width="0.3" textLength="9.22" lengthAdjust="spacingAndGlyphs">0.4</text>
<text x="15.85" y="242.8" font-family="'Liberation Sans', Arial, sans-serif" font-size="7.8" font-weight="bold" text-anchor="start" fill="#000" stroke="#000" stroke-width="0.3" textLength="9.22" lengthAdjust="spacingAndGlyphs">0.2</text>
<text x="15.86" y="275.9" font-family="'Liberation Sans', Arial, sans-serif" font-size="7.8" font-weight="bold" text-anchor="start" fill="#000" stroke="#000" stroke-width="0.3" textLength="9.22" lengthAdjust="spacingAndGlyphs">0.0</text>
<text x="13.64" y="309" font-family="'Liberation Sans', Arial, sans-serif" font-size="7.8" font-weight="bold" text-anchor="start" fill="#000" stroke="#000" stroke-width="0.3" textLength="11.42" lengthAdjust="spacingAndGlyphs">-0.2</text>
<text x="13.41" y="342.1" font-family="'Liberation Sans', Arial, sans-serif" font-size="7.8" font-weight="bold" text-anchor="start" fill="#000" stroke="#000" stroke-width="0.3" textLength="11.42" lengthAdjust="spacingAndGlyphs">-0.4</text>
<text x="88.51" y="370.45" font-family="'Liberation Sans', Arial, sans-serif" font-size="10.61" font-weight="bold" text-anchor="start" fill="#000" stroke="#000" stroke-width="0.3" textLength="43.81" lengthAdjust="spacingAndGlyphs">Field (Oe)</text>
<text transform="translate(9.4,0) rotate(-90)" x="-321.52" y="0" font-family="'Liberation Sans', Arial, sans-serif" font-size="12.4" font-weight="bold" stroke="#000" stroke-width="0.3" textLength="51.38" lengthAdjust="spacingAndGlyphs">Moment (</text>
<text transform="translate(8.4,0) rotate(-90)" x="-270.21" y="0" font-family="'Liberation Sans', Arial, sans-serif" font-size="9.5" font-weight="normal" textLength="8.2" lengthAdjust="spacingAndGlyphs">μ</text>
<text transform="translate(11.7,0) rotate(-90)" x="-263.11" y="0" font-family="'Liberation Sans', Arial, sans-serif" font-size="6" font-weight="bold" stroke="#000" stroke-width="0.3" textLength="4.97" lengthAdjust="spacingAndGlyphs">B</text>
<text transform="translate(9.4,0) rotate(-90)" x="-258.87" y="0" font-family="'Liberation Sans', Arial, sans-serif" font-size="12.4" font-weight="bold" stroke="#000" stroke-width="0.3" textLength="24.04" lengthAdjust="spacingAndGlyphs">/Co)</text>
<text x="35.08" y="213.55" font-family="'Liberation Serif', 'Times New Roman', serif" font-size="12.3" font-weight="bold" text-anchor="start" fill="#000" textLength="14.34" lengthAdjust="spacingAndGlyphs">(c)</text>
<line x1="152.6" y1="290.6" x2="170" y2="290.6" stroke="#3a3af5" stroke-width="1.3" stroke-dasharray="4,1.6"/>
<rect x="160.3" y="289.5" width="2.2" height="2.2" fill="#3a3af5"/>
<text x="171.81" y="292.55" font-family="'Liberation Sans', Arial, sans-serif" font-size="8.14" font-weight="bold" text-anchor="start" fill="#000" stroke="#000" stroke-width="0.3" textLength="11.73" lengthAdjust="spacingAndGlyphs">150</text>
<text x="185.49" y="292.55" font-family="'Liberation Sans', Arial, sans-serif" font-size="8.14" font-weight="bold" text-anchor="start" fill="#000" stroke="#000" stroke-width="0.3" textLength="4.92" lengthAdjust="spacingAndGlyphs">K</text>
<line x1="152.6" y1="301.15" x2="170" y2="301.15" stroke="#f51e1e" stroke-width="1.3" stroke-dasharray="4,1.6"/>
<rect x="160.3" y="300.05" width="2.2" height="2.2" fill="#f51e1e"/>
<text x="172.01" y="303.1" font-family="'Liberation Sans', Arial, sans-serif" font-size="8.14" font-weight="bold" text-anchor="start" fill="#000" stroke="#000" stroke-width="0.3" textLength="11.52" lengthAdjust="spacingAndGlyphs">200</text>
<text x="185.49" y="303.1" font-family="'Liberation Sans', Arial, sans-serif" font-size="8.14" font-weight="bold" text-anchor="start" fill="#000" stroke="#000" stroke-width="0.3" textLength="4.92" lengthAdjust="spacingAndGlyphs">K</text>
<line x1="152.6" y1="311.7" x2="170" y2="311.7" stroke="#3ee83e" stroke-width="1.3" stroke-dasharray="4,1.6"/>
<rect x="160.3" y="310.6" width="2.2" height="2.2" fill="#3ee83e"/>
<text x="172.01" y="313.65" font-family="'Liberation Sans', Arial, sans-serif" font-size="8.14" font-weight="bold" text-anchor="start" fill="#000" stroke="#000" stroke-width="0.3" textLength="11.52" lengthAdjust="spacingAndGlyphs">250</text>
<text x="185.49" y="313.65" font-family="'Liberation Sans', Arial, sans-serif" font-size="8.14" font-weight="bold" text-anchor="start" fill="#000" stroke="#000" stroke-width="0.3" textLength="4.92" lengthAdjust="spacingAndGlyphs">K</text>
<line x1="152.6" y1="322.25" x2="170" y2="322.25" stroke="#101010" stroke-width="1.3" stroke-dasharray="4,1.6"/>
<rect x="160.3" y="321.15" width="2.2" height="2.2" fill="#101010"/>
<text x="172.09" y="324.2" font-family="'Liberation Sans', Arial, sans-serif" font-size="8.14" font-weight="bold" text-anchor="start" fill="#000" stroke="#000" stroke-width="0.3" textLength="11.44" lengthAdjust="spacingAndGlyphs">300</text>
<text x="185.49" y="324.2" font-family="'Liberation Sans', Arial, sans-serif" font-size="8.14" font-weight="bold" text-anchor="start" fill="#000" stroke="#000" stroke-width="0.3" textLength="4.92" lengthAdjust="spacingAndGlyphs">K</text>
<line x1="152.6" y1="332.8" x2="170" y2="332.8" stroke="#1ee6f0" stroke-width="1.3" stroke-dasharray="4,1.6"/>
<rect x="160.3" y="331.7" width="2.2" height="2.2" fill="#1ee6f0"/>
<text x="172.09" y="334.75" font-family="'Liberation Sans', Arial, sans-serif" font-size="8.14" font-weight="bold" text-anchor="start" fill="#000" stroke="#000" stroke-width="0.3" textLength="11.44" lengthAdjust="spacingAndGlyphs">350</text>
<text x="185.49" y="334.75" font-family="'Liberation Sans', Arial, sans-serif" font-size="8.14" font-weight="bold" text-anchor="start" fill="#000" stroke="#000" stroke-width="0.3" textLength="4.92" lengthAdjust="spacingAndGlyphs">K</text>
<polyline points="255,227.5 255.9,234.1 256.8,238.4 257.6,241.7 258.5,245 259.8,248.2 261.8,250.9 263.8,252.8 265.7,254.8 267.7,256.4 269.7,255.5 275.6,262.7 276.9,264 277.6,266.4" fill="none" stroke="#444" stroke-width="0.6" stroke-linejoin="round"/>
<polyline points="276.9,264.2 278.6,266.14 280.3,266.63 282,266.78 283.7,267.29 285.4,266.65 287.1,266.71 288.8,266.82 290.5,266.26 292.2,266.72 293.9,266.88 295.6,267.11 297.3,266.13 299,266.42 300.7,266.13 302.4,267.13 304.1,266.97 305.8,266.06 307.5,267.38 309.2,267.35 310.9,266.92 312.6,266.86 314.3,266.22 316,266.02 317.7,266.74 319.4,266.08 321.1,266.27 322.8,266.34 324.5,266.04 326.2,266.65 327.9,266.62 329.6,267.18 331.3,266.73 333,266.9 334.7,266.7 336.4,266.93 338.1,266.64 339.8,266.39 341.5,267.4 343.2,267.39 344.9,267.18 346.6,266.99 348.3,266.44 350,266.32 351.7,266.4 353.4,266.1 355.1,267.07 356.8,266.56 358.5,267.19 360.2,266.54 361.9,267.34 363.6,267.19 365.3,266 367,266.29 368.7,267.27 370.4,266.66 372.1,267.37 373.8,266.56 375.5,266.1 377.2,266.88 378.9,267.09 380.6,266.38 382.3,266.12 384,266.47 385.7,267.35 387.4,267.06 389.1,266.17 390.8,266.34 392.5,266.14 394.2,266.08 395.9,267.12 397.6,266.25 399.3,266.78 401,266.63" fill="none" stroke="#333" stroke-width="0.8" stroke-linejoin="round"/>
<circle cx="255" cy="227.5" r="1.45" fill="#fff" stroke="#222" stroke-width="0.8"/>
<circle cx="255.9" cy="234.1" r="1.45" fill="#fff" stroke="#222" stroke-width="0.8"/>
<circle cx="256.8" cy="238.4" r="1.45" fill="#fff" stroke="#222" stroke-width="0.8"/>
<circle cx="257.6" cy="241.7" r="1.45" fill="#fff" stroke="#222" stroke-width="0.8"/>
<circle cx="258.5" cy="245" r="1.45" fill="#fff" stroke="#222" stroke-width="0.8"/>
<circle cx="259.8" cy="248.2" r="1.45" fill="#fff" stroke="#222" stroke-width="0.8"/>
<circle cx="261.8" cy="250.9" r="1.45" fill="#fff" stroke="#222" stroke-width="0.8"/>
<circle cx="263.8" cy="252.8" r="1.45" fill="#fff" stroke="#222" stroke-width="0.8"/>
<circle cx="265.7" cy="254.8" r="1.45" fill="#fff" stroke="#222" stroke-width="0.8"/>
<circle cx="267.7" cy="256.4" r="1.45" fill="#fff" stroke="#222" stroke-width="0.8"/>
<circle cx="269.7" cy="255.5" r="1.45" fill="#fff" stroke="#222" stroke-width="0.8"/>
<circle cx="276.9" cy="264.2" r="1.45" fill="#bdbdbd" stroke="#222" stroke-width="0.85"/>
<circle cx="278.6" cy="266.14" r="1.45" fill="#bdbdbd" stroke="#222" stroke-width="0.85"/>
<circle cx="280.3" cy="266.63" r="1.45" fill="#bdbdbd" stroke="#222" stroke-width="0.85"/>
<circle cx="282" cy="266.78" r="1.45" fill="#bdbdbd" stroke="#222" stroke-width="0.85"/>
<circle cx="283.7" cy="267.29" r="1.45" fill="#bdbdbd" stroke="#222" stroke-width="0.85"/>
<circle cx="285.4" cy="266.65" r="1.45" fill="#bdbdbd" stroke="#222" stroke-width="0.85"/>
<circle cx="287.1" cy="266.71" r="1.45" fill="#bdbdbd" stroke="#222" stroke-width="0.85"/>
<circle cx="288.8" cy="266.82" r="1.45" fill="#bdbdbd" stroke="#222" stroke-width="0.85"/>
<circle cx="290.5" cy="266.26" r="1.45" fill="#bdbdbd" stroke="#222" stroke-width="0.85"/>
<circle cx="292.2" cy="266.72" r="1.45" fill="#bdbdbd" stroke="#222" stroke-width="0.85"/>
<circle cx="293.9" cy="266.88" r="1.45" fill="#bdbdbd" stroke="#222" stroke-width="0.85"/>
<circle cx="295.6" cy="267.11" r="1.45" fill="#bdbdbd" stroke="#222" stroke-width="0.85"/>
<circle cx="297.3" cy="266.13" r="1.45" fill="#bdbdbd" stroke="#222" stroke-width="0.85"/>
<circle cx="299" cy="266.42" r="1.45" fill="#bdbdbd" stroke="#222" stroke-width="0.85"/>
<circle cx="300.7" cy="266.13" r="1.45" fill="#bdbdbd" stroke="#222" stroke-width="0.85"/>
<circle cx="302.4" cy="267.13" r="1.45" fill="#bdbdbd" stroke="#222" stroke-width="0.85"/>
<circle cx="304.1" cy="266.97" r="1.45" fill="#bdbdbd" stroke="#222" stroke-width="0.85"/>
<circle cx="305.8" cy="266.06" r="1.45" fill="#bdbdbd" stroke="#222" stroke-width="0.85"/>
<circle cx="307.5" cy="267.38" r="1.45" fill="#bdbdbd" stroke="#222" stroke-width="0.85"/>
<circle cx="309.2" cy="267.35" r="1.45" fill="#bdbdbd" stroke="#222" stroke-width="0.85"/>
<circle cx="310.9" cy="266.92" r="1.45" fill="#bdbdbd" stroke="#222" stroke-width="0.85"/>
<circle cx="312.6" cy="266.86" r="1.45" fill="#bdbdbd" stroke="#222" stroke-width="0.85"/>
<circle cx="314.3" cy="266.22" r="1.45" fill="#bdbdbd" stroke="#222" stroke-width="0.85"/>
<circle cx="316" cy="266.02" r="1.45" fill="#bdbdbd" stroke="#222" stroke-width="0.85"/>
<circle cx="317.7" cy="266.74" r="1.45" fill="#bdbdbd" stroke="#222" stroke-width="0.85"/>
<circle cx="319.4" cy="266.08" r="1.45" fill="#bdbdbd" stroke="#222" stroke-width="0.85"/>
<circle cx="321.1" cy="266.27" r="1.45" fill="#bdbdbd" stroke="#222" stroke-width="0.85"/>
<circle cx="322.8" cy="266.34" r="1.45" fill="#bdbdbd" stroke="#222" stroke-width="0.85"/>
<circle cx="324.5" cy="266.04" r="1.45" fill="#bdbdbd" stroke="#222" stroke-width="0.85"/>
<circle cx="326.2" cy="266.65" r="1.45" fill="#bdbdbd" stroke="#222" stroke-width="0.85"/>
<circle cx="327.9" cy="266.62" r="1.45" fill="#bdbdbd" stroke="#222" stroke-width="0.85"/>
<circle cx="329.6" cy="267.18" r="1.45" fill="#bdbdbd" stroke="#222" stroke-width="0.85"/>
<circle cx="331.3" cy="266.73" r="1.45" fill="#bdbdbd" stroke="#222" stroke-width="0.85"/>
<circle cx="333" cy="266.9" r="1.45" fill="#bdbdbd" stroke="#222" stroke-width="0.85"/>
<circle cx="334.7" cy="266.7" r="1.45" fill="#bdbdbd" stroke="#222" stroke-width="0.85"/>
<circle cx="336.4" cy="266.93" r="1.45" fill="#bdbdbd" stroke="#222" stroke-width="0.85"/>
<circle cx="338.1" cy="266.64" r="1.45" fill="#bdbdbd" stroke="#222" stroke-width="0.85"/>
<circle cx="339.8" cy="266.39" r="1.45" fill="#bdbdbd" stroke="#222" stroke-width="0.85"/>
<circle cx="341.5" cy="267.4" r="1.45" fill="#bdbdbd" stroke="#222" stroke-width="0.85"/>
<circle cx="343.2" cy="267.39" r="1.45" fill="#bdbdbd" stroke="#222" stroke-width="0.85"/>
<circle cx="344.9" cy="267.18" r="1.45" fill="#bdbdbd" stroke="#222" stroke-width="0.85"/>
<circle cx="346.6" cy="266.99" r="1.45" fill="#bdbdbd" stroke="#222" stroke-width="0.85"/>
<circle cx="348.3" cy="266.44" r="1.45" fill="#bdbdbd" stroke="#222" stroke-width="0.85"/>
<circle cx="350" cy="266.32" r="1.45" fill="#bdbdbd" stroke="#222" stroke-width="0.85"/>
<circle cx="351.7" cy="266.4" r="1.45" fill="#bdbdbd" stroke="#222" stroke-width="0.85"/>
<circle cx="353.4" cy="266.1" r="1.45" fill="#bdbdbd" stroke="#222" stroke-width="0.85"/>
<circle cx="355.1" cy="267.07" r="1.45" fill="#bdbdbd" stroke="#222" stroke-width="0.85"/>
<circle cx="356.8" cy="266.56" r="1.45" fill="#bdbdbd" stroke="#222" stroke-width="0.85"/>
<circle cx="358.5" cy="267.19" r="1.45" fill="#bdbdbd" stroke="#222" stroke-width="0.85"/>
<circle cx="360.2" cy="266.54" r="1.45" fill="#bdbdbd" stroke="#222" stroke-width="0.85"/>
<circle cx="361.9" cy="267.34" r="1.45" fill="#bdbdbd" stroke="#222" stroke-width="0.85"/>
<circle cx="363.6" cy="267.19" r="1.45" fill="#bdbdbd" stroke="#222" stroke-width="0.85"/>
<circle cx="365.3" cy="266" r="1.45" fill="#bdbdbd" stroke="#222" stroke-width="0.85"/>
<circle cx="367" cy="266.29" r="1.45" fill="#bdbdbd" stroke="#222" stroke-width="0.85"/>
<circle cx="368.7" cy="267.27" r="1.45" fill="#bdbdbd" stroke="#222" stroke-width="0.85"/>
<circle cx="370.4" cy="266.66" r="1.45" fill="#bdbdbd" stroke="#222" stroke-width="0.85"/>
<circle cx="372.1" cy="267.37" r="1.45" fill="#bdbdbd" stroke="#222" stroke-width="0.85"/>
<circle cx="373.8" cy="266.56" r="1.45" fill="#bdbdbd" stroke="#222" stroke-width="0.85"/>
<circle cx="375.5" cy="266.1" r="1.45" fill="#bdbdbd" stroke="#222" stroke-width="0.85"/>
<circle cx="377.2" cy="266.88" r="1.45" fill="#bdbdbd" stroke="#222" stroke-width="0.85"/>
<circle cx="378.9" cy="267.09" r="1.45" fill="#bdbdbd" stroke="#222" stroke-width="0.85"/>
<circle cx="380.6" cy="266.38" r="1.45" fill="#bdbdbd" stroke="#222" stroke-width="0.85"/>
<circle cx="382.3" cy="266.12" r="1.45" fill="#bdbdbd" stroke="#222" stroke-width="0.85"/>
<circle cx="384" cy="266.47" r="1.45" fill="#bdbdbd" stroke="#222" stroke-width="0.85"/>
<circle cx="385.7" cy="267.35" r="1.45" fill="#bdbdbd" stroke="#222" stroke-width="0.85"/>
<circle cx="387.4" cy="267.06" r="1.45" fill="#bdbdbd" stroke="#222" stroke-width="0.85"/>
<circle cx="389.1" cy="266.17" r="1.45" fill="#bdbdbd" stroke="#222" stroke-width="0.85"/>
<circle cx="390.8" cy="266.34" r="1.45" fill="#bdbdbd" stroke="#222" stroke-width="0.85"/>
<circle cx="392.5" cy="266.14" r="1.45" fill="#bdbdbd" stroke="#222" stroke-width="0.85"/>
<circle cx="394.2" cy="266.08" r="1.45" fill="#bdbdbd" stroke="#222" stroke-width="0.85"/>
<circle cx="395.9" cy="267.12" r="1.45" fill="#bdbdbd" stroke="#222" stroke-width="0.85"/>
<circle cx="397.6" cy="266.25" r="1.45" fill="#bdbdbd" stroke="#222" stroke-width="0.85"/>
<circle cx="399.3" cy="266.78" r="1.45" fill="#bdbdbd" stroke="#222" stroke-width="0.85"/>
<circle cx="401" cy="266.63" r="1.45" fill="#bdbdbd" stroke="#222" stroke-width="0.85"/>
<polyline points="258.2,309.2 259.6,310.1 263.4,312.1 267.3,314.5 270.1,315.9 272.5,316.4 277.3,317.3 280.7,318.3 283.6,317.8 287.4,316.4 290,315.4 297,312.3 307.8,307.2 318.5,301.8 329.3,296.6 348.6,288.8 370.2,279.8 387.4,272.8 398.2,268.2 401.5,266.9" fill="none" stroke="#000" stroke-width="1.3" stroke-linejoin="round"/>
<circle cx="255" cy="296" r="1.35" fill="#000" stroke="none" stroke-width="0.6"/>
<circle cx="255.8" cy="301.5" r="1.35" fill="#000" stroke="none" stroke-width="0.6"/>
<circle cx="256.7" cy="305.3" r="1.35" fill="#000" stroke="none" stroke-width="0.6"/>
<circle cx="257.4" cy="307.3" r="1.35" fill="#000" stroke="none" stroke-width="0.6"/>
<circle cx="258.2" cy="309.2" r="1.15" fill="#000" stroke="none" stroke-width="0.6"/>
<circle cx="259.7" cy="310.15" r="1.15" fill="#000" stroke="none" stroke-width="0.6"/>
<circle cx="261.2" cy="310.94" r="1.15" fill="#000" stroke="none" stroke-width="0.6"/>
<circle cx="262.7" cy="311.73" r="1.15" fill="#000" stroke="none" stroke-width="0.6"/>
<circle cx="264.2" cy="312.59" r="1.15" fill="#000" stroke="none" stroke-width="0.6"/>
<circle cx="265.7" cy="313.52" r="1.15" fill="#000" stroke="none" stroke-width="0.6"/>
<circle cx="267.2" cy="314.44" r="1.15" fill="#000" stroke="none" stroke-width="0.6"/>
<circle cx="268.7" cy="315.2" r="1.15" fill="#000" stroke="none" stroke-width="0.6"/>
<circle cx="270.2" cy="315.92" r="1.15" fill="#000" stroke="none" stroke-width="0.6"/>
<circle cx="271.7" cy="316.23" r="1.15" fill="#000" stroke="none" stroke-width="0.6"/>
<circle cx="273.2" cy="316.53" r="1.15" fill="#000" stroke="none" stroke-width="0.6"/>
<circle cx="277.7" cy="317.42" r="1.15" fill="#000" stroke="none" stroke-width="0.6"/>
<circle cx="279.2" cy="317.86" r="1.15" fill="#000" stroke="none" stroke-width="0.6"/>
<circle cx="280.7" cy="318.3" r="1.15" fill="#000" stroke="none" stroke-width="0.6"/>
<circle cx="282.2" cy="318.04" r="1.15" fill="#000" stroke="none" stroke-width="0.6"/>
<circle cx="283.7" cy="317.76" r="1.15" fill="#000" stroke="none" stroke-width="0.6"/>
<circle cx="285.2" cy="317.21" r="1.15" fill="#000" stroke="none" stroke-width="0.6"/>
<circle cx="286.7" cy="316.66" r="1.15" fill="#000" stroke="none" stroke-width="0.6"/>
<circle cx="288.2" cy="316.09" r="1.15" fill="#000" stroke="none" stroke-width="0.6"/>
<circle cx="289.7" cy="315.52" r="1.15" fill="#000" stroke="none" stroke-width="0.6"/>
<circle cx="291.2" cy="314.87" r="1.15" fill="#000" stroke="none" stroke-width="0.6"/>
<circle cx="292.7" cy="314.2" r="1.15" fill="#000" stroke="none" stroke-width="0.6"/>
<circle cx="294.2" cy="313.54" r="1.15" fill="#000" stroke="none" stroke-width="0.6"/>
<circle cx="295.7" cy="312.88" r="1.15" fill="#000" stroke="none" stroke-width="0.6"/>
<circle cx="297.2" cy="312.21" r="1.15" fill="#000" stroke="none" stroke-width="0.6"/>
<circle cx="298.7" cy="311.5" r="1.15" fill="#000" stroke="none" stroke-width="0.6"/>
<circle cx="300.2" cy="310.79" r="1.4" fill="#000" stroke="none" stroke-width="0.6"/>
<circle cx="301.7" cy="310.08" r="1.4" fill="#000" stroke="none" stroke-width="0.6"/>
<circle cx="303.2" cy="309.37" r="1.4" fill="#000" stroke="none" stroke-width="0.6"/>
<circle cx="304.7" cy="308.66" r="1.4" fill="#000" stroke="none" stroke-width="0.6"/>
<circle cx="306.2" cy="307.96" r="1.4" fill="#000" stroke="none" stroke-width="0.6"/>
<circle cx="307.7" cy="307.25" r="1.4" fill="#000" stroke="none" stroke-width="0.6"/>
<circle cx="309.2" cy="306.49" r="1.4" fill="#000" stroke="none" stroke-width="0.6"/>
<circle cx="310.7" cy="305.74" r="1.4" fill="#000" stroke="none" stroke-width="0.6"/>
<circle cx="312.2" cy="304.98" r="1.4" fill="#000" stroke="none" stroke-width="0.6"/>
<circle cx="313.7" cy="304.22" r="1.4" fill="#000" stroke="none" stroke-width="0.6"/>
<circle cx="315.2" cy="303.47" r="1.4" fill="#000" stroke="none" stroke-width="0.6"/>
<circle cx="316.7" cy="302.71" r="1.4" fill="#000" stroke="none" stroke-width="0.6"/>
<circle cx="318.2" cy="301.95" r="1.4" fill="#000" stroke="none" stroke-width="0.6"/>
<circle cx="319.7" cy="301.22" r="1.4" fill="#000" stroke="none" stroke-width="0.6"/>
<circle cx="321.2" cy="300.5" r="1.4" fill="#000" stroke="none" stroke-width="0.6"/>
<circle cx="322.7" cy="299.78" r="1.4" fill="#000" stroke="none" stroke-width="0.6"/>
<circle cx="324.2" cy="299.06" r="1.4" fill="#000" stroke="none" stroke-width="0.6"/>
<circle cx="325.7" cy="298.33" r="1.4" fill="#000" stroke="none" stroke-width="0.6"/>
<circle cx="327.2" cy="297.61" r="1.4" fill="#000" stroke="none" stroke-width="0.6"/>
<circle cx="328.7" cy="296.89" r="1.4" fill="#000" stroke="none" stroke-width="0.6"/>
<circle cx="330.2" cy="296.24" r="1.4" fill="#000" stroke="none" stroke-width="0.6"/>
<circle cx="331.7" cy="295.63" r="1.4" fill="#000" stroke="none" stroke-width="0.6"/>
<circle cx="333.2" cy="295.02" r="1.4" fill="#000" stroke="none" stroke-width="0.6"/>
<circle cx="334.7" cy="294.42" r="1.4" fill="#000" stroke="none" stroke-width="0.6"/>
<circle cx="336.2" cy="293.81" r="1.4" fill="#000" stroke="none" stroke-width="0.6"/>
<circle cx="337.7" cy="293.21" r="1.4" fill="#000" stroke="none" stroke-width="0.6"/>
<circle cx="339.2" cy="292.6" r="1.4" fill="#000" stroke="none" stroke-width="0.6"/>
<circle cx="340.7" cy="291.99" r="1.4" fill="#000" stroke="none" stroke-width="0.6"/>
<circle cx="342.2" cy="291.39" r="1.4" fill="#000" stroke="none" stroke-width="0.6"/>
<circle cx="343.7" cy="290.78" r="1.4" fill="#000" stroke="none" stroke-width="0.6"/>
<circle cx="345.2" cy="290.17" r="1.4" fill="#000" stroke="none" stroke-width="0.6"/>
<circle cx="346.7" cy="289.57" r="1.4" fill="#000" stroke="none" stroke-width="0.6"/>
<circle cx="348.2" cy="288.96" r="1.4" fill="#000" stroke="none" stroke-width="0.6"/>
<circle cx="349.7" cy="288.34" r="1.4" fill="#000" stroke="none" stroke-width="0.6"/>
<circle cx="351.2" cy="287.72" r="1.4" fill="#000" stroke="none" stroke-width="0.6"/>
<circle cx="352.7" cy="287.09" r="1.4" fill="#000" stroke="none" stroke-width="0.6"/>
<circle cx="354.2" cy="286.47" r="1.4" fill="#000" stroke="none" stroke-width="0.6"/>
<circle cx="355.7" cy="285.84" r="1.4" fill="#000" stroke="none" stroke-width="0.6"/>
<circle cx="357.2" cy="285.22" r="1.4" fill="#000" stroke="none" stroke-width="0.6"/>
<circle cx="358.7" cy="284.59" r="1.4" fill="#000" stroke="none" stroke-width="0.6"/>
<circle cx="360.2" cy="283.97" r="1.4" fill="#000" stroke="none" stroke-width="0.6"/>
<circle cx="361.7" cy="283.34" r="1.4" fill="#000" stroke="none" stroke-width="0.6"/>
<circle cx="363.2" cy="282.72" r="1.4" fill="#000" stroke="none" stroke-width="0.6"/>
<circle cx="364.7" cy="282.09" r="1.4" fill="#000" stroke="none" stroke-width="0.6"/>
<circle cx="366.2" cy="281.47" r="1.4" fill="#000" stroke="none" stroke-width="0.6"/>
<circle cx="367.7" cy="280.84" r="1.4" fill="#000" stroke="none" stroke-width="0.6"/>
<circle cx="369.2" cy="280.22" r="1.4" fill="#000" stroke="none" stroke-width="0.6"/>
<circle cx="370.7" cy="279.6" r="1.4" fill="#000" stroke="none" stroke-width="0.6"/>
<circle cx="372.2" cy="278.99" r="1.4" fill="#000" stroke="none" stroke-width="0.6"/>
<circle cx="373.7" cy="278.38" r="1.4" fill="#000" stroke="none" stroke-width="0.6"/>
<circle cx="375.2" cy="277.77" r="1.4" fill="#000" stroke="none" stroke-width="0.6"/>
<circle cx="376.7" cy="277.15" r="1.4" fill="#000" stroke="none" stroke-width="0.6"/>
<circle cx="378.2" cy="276.54" r="1.4" fill="#000" stroke="none" stroke-width="0.6"/>
<circle cx="379.7" cy="275.93" r="1.4" fill="#000" stroke="none" stroke-width="0.6"/>
<circle cx="381.2" cy="275.32" r="1.4" fill="#000" stroke="none" stroke-width="0.6"/>
<circle cx="382.7" cy="274.71" r="1.4" fill="#000" stroke="none" stroke-width="0.6"/>
<circle cx="384.2" cy="274.1" r="1.4" fill="#000" stroke="none" stroke-width="0.6"/>
<circle cx="385.7" cy="273.49" r="1.4" fill="#000" stroke="none" stroke-width="0.6"/>
<circle cx="387.2" cy="272.88" r="1.4" fill="#000" stroke="none" stroke-width="0.6"/>
<circle cx="388.7" cy="272.25" r="1.4" fill="#000" stroke="none" stroke-width="0.6"/>
<circle cx="390.2" cy="271.61" r="1.4" fill="#000" stroke="none" stroke-width="0.6"/>
<circle cx="391.7" cy="270.97" r="1.4" fill="#000" stroke="none" stroke-width="0.6"/>
<circle cx="393.2" cy="270.33" r="1.4" fill="#000" stroke="none" stroke-width="0.6"/>
<circle cx="394.7" cy="269.69" r="1.4" fill="#000" stroke="none" stroke-width="0.6"/>
<circle cx="396.2" cy="269.05" r="1.4" fill="#000" stroke="none" stroke-width="0.6"/>
<circle cx="397.7" cy="268.41" r="1.4" fill="#000" stroke="none" stroke-width="0.6"/>
<circle cx="399.2" cy="267.81" r="1.4" fill="#000" stroke="none" stroke-width="0.6"/>
<circle cx="400.7" cy="267.22" r="1.4" fill="#000" stroke="none" stroke-width="0.6"/>
<circle cx="402.3" cy="266.9" r="1.55" fill="#fff" stroke="#222" stroke-width="0.8"/>
<rect x="243.5" y="200" width="167.1" height="149.6" fill="none" stroke="#222" stroke-width="1.0"/>
<line x1="253" y1="349.6" x2="253" y2="352.4" stroke="#222" stroke-width="0.8"/>
<line x1="253" y1="200" x2="253" y2="201.8" stroke="#222" stroke-width="0.8"/>
<line x1="262.84" y1="349.6" x2="262.84" y2="350.8" stroke="#222" stroke-width="0.8"/>
<line x1="262.84" y1="200" x2="262.84" y2="201.8" stroke="#222" stroke-width="0.8"/>
<line x1="272.69" y1="349.6" x2="272.69" y2="352.4" stroke="#222" stroke-width="0.8"/>
<line x1="272.69" y1="200" x2="272.69" y2="201.8" stroke="#222" stroke-width="0.8"/>
<line x1="282.53" y1="349.6" x2="282.53" y2="350.8" stroke="#222" stroke-width="0.8"/>
<line x1="282.53" y1="200" x2="282.53" y2="201.8" stroke="#222" stroke-width="0.8"/>
<line x1="292.38" y1="349.6" x2="292.38" y2="352.4" stroke="#222" stroke-width="0.8"/>
<line x1="292.38" y1="200" x2="292.38" y2="201.8" stroke="#222" stroke-width="0.8"/>
<line x1="302.22" y1="349.6" x2="302.22" y2="350.8" stroke="#222" stroke-width="0.8"/>
<line x1="302.22" y1="200" x2="302.22" y2="201.8" stroke="#222" stroke-width="0.8"/>
<line x1="312.06" y1="349.6" x2="312.06" y2="352.4" stroke="#222" stroke-width="0.8"/>
<line x1="312.06" y1="200" x2="312.06" y2="201.8" stroke="#222" stroke-width="0.8"/>
<line x1="321.91" y1="349.6" x2="321.91" y2="350.8" stroke="#222" stroke-width="0.8"/>
<line x1="321.91" y1="200" x2="321.91" y2="201.8" stroke="#222" stroke-width="0.8"/>
<line x1="331.75" y1="349.6" x2="331.75" y2="352.4" stroke="#222" stroke-width="0.8"/>
<line x1="331.75" y1="200" x2="331.75" y2="201.8" stroke="#222" stroke-width="0.8"/>
<line x1="341.59" y1="349.6" x2="341.59" y2="350.8" stroke="#222" stroke-width="0.8"/>
<line x1="341.59" y1="200" x2="341.59" y2="201.8" stroke="#222" stroke-width="0.8"/>
<line x1="351.44" y1="349.6" x2="351.44" y2="352.4" stroke="#222" stroke-width="0.8"/>
<line x1="351.44" y1="200" x2="351.44" y2="201.8" stroke="#222" stroke-width="0.8"/>
<line x1="361.28" y1="349.6" x2="361.28" y2="350.8" stroke="#222" stroke-width="0.8"/>
<line x1="361.28" y1="200" x2="361.28" y2="201.8" stroke="#222" stroke-width="0.8"/>
<line x1="371.12" y1="349.6" x2="371.12" y2="352.4" stroke="#222" stroke-width="0.8"/>
<line x1="371.12" y1="200" x2="371.12" y2="201.8" stroke="#222" stroke-width="0.8"/>
<line x1="380.97" y1="349.6" x2="380.97" y2="350.8" stroke="#222" stroke-width="0.8"/>
<line x1="380.97" y1="200" x2="380.97" y2="201.8" stroke="#222" stroke-width="0.8"/>
<line x1="390.81" y1="349.6" x2="390.81" y2="352.4" stroke="#222" stroke-width="0.8"/>
<line x1="390.81" y1="200" x2="390.81" y2="201.8" stroke="#222" stroke-width="0.8"/>
<line x1="400.66" y1="349.6" x2="400.66" y2="350.8" stroke="#222" stroke-width="0.8"/>
<line x1="400.66" y1="200" x2="400.66" y2="201.8" stroke="#222" stroke-width="0.8"/>
<line x1="410.5" y1="349.6" x2="410.5" y2="352.4" stroke="#222" stroke-width="0.8"/>
<line x1="410.5" y1="200" x2="410.5" y2="201.8" stroke="#222" stroke-width="0.8"/>
<line x1="243.5" y1="349.6" x2="240.7" y2="349.6" stroke="#222" stroke-width="0.8"/>
<line x1="410.6" y1="349.6" x2="408.8" y2="349.6" stroke="#222" stroke-width="0.8"/>
<line x1="243.5" y1="324.67" x2="242.3" y2="324.67" stroke="#222" stroke-width="0.8"/>
<line x1="410.6" y1="324.67" x2="408.8" y2="324.67" stroke="#222" stroke-width="0.8"/>
<line x1="243.5" y1="299.73" x2="240.7" y2="299.73" stroke="#222" stroke-width="0.8"/>
<line x1="410.6" y1="299.73" x2="408.8" y2="299.73" stroke="#222" stroke-width="0.8"/>
<line x1="243.5" y1="274.8" x2="242.3" y2="274.8" stroke="#222" stroke-width="0.8"/>
<line x1="410.6" y1="274.8" x2="408.8" y2="274.8" stroke="#222" stroke-width="0.8"/>
<line x1="243.5" y1="249.87" x2="240.7" y2="249.87" stroke="#222" stroke-width="0.8"/>
<line x1="410.6" y1="249.87" x2="408.8" y2="249.87" stroke="#222" stroke-width="0.8"/>
<line x1="243.5" y1="224.93" x2="242.3" y2="224.93" stroke="#222" stroke-width="0.8"/>
<line x1="410.6" y1="224.93" x2="408.8" y2="224.93" stroke="#222" stroke-width="0.8"/>
<line x1="243.5" y1="200" x2="240.7" y2="200" stroke="#222" stroke-width="0.8"/>
<line x1="410.6" y1="200" x2="408.8" y2="200" stroke="#222" stroke-width="0.8"/>
<text x="251.12" y="361.1" font-family="'Liberation Sans', Arial, sans-serif" font-size="7.9" font-weight="bold" text-anchor="start" fill="#000" stroke="#000" stroke-width="0.3" textLength="3.78" lengthAdjust="spacingAndGlyphs">0</text>
<text x="268.94" y="361.1" font-family="'Liberation Sans', Arial, sans-serif" font-size="7.9" font-weight="bold" text-anchor="start" fill="#000" stroke="#000" stroke-width="0.3" textLength="7.56" lengthAdjust="spacingAndGlyphs">50</text>
<text x="286.63" y="361.1" font-family="'Liberation Sans', Arial, sans-serif" font-size="7.9" font-weight="bold" text-anchor="start" fill="#000" stroke="#000" stroke-width="0.3" textLength="11.34" lengthAdjust="spacingAndGlyphs">100</text>
<text x="306.32" y="361.1" font-family="'Liberation Sans', Arial, sans-serif" font-size="7.9" font-weight="bold" text-anchor="start" fill="#000" stroke="#000" stroke-width="0.3" textLength="11.34" lengthAdjust="spacingAndGlyphs">150</text>
<text x="326.1" y="361.1" font-family="'Liberation Sans', Arial, sans-serif" font-size="7.9" font-weight="bold" text-anchor="start" fill="#000" stroke="#000" stroke-width="0.3" textLength="11.34" lengthAdjust="spacingAndGlyphs">200</text>
<text x="345.79" y="361.1" font-family="'Liberation Sans', Arial, sans-serif" font-size="7.9" font-weight="bold" text-anchor="start" fill="#000" stroke="#000" stroke-width="0.3" textLength="11.34" lengthAdjust="spacingAndGlyphs">250</text>
<text x="365.52" y="361.1" font-family="'Liberation Sans', Arial, sans-serif" font-size="7.9" font-weight="bold" text-anchor="start" fill="#000" stroke="#000" stroke-width="0.3" textLength="11.34" lengthAdjust="spacingAndGlyphs">300</text>
<text x="385.21" y="361.1" font-family="'Liberation Sans', Arial, sans-serif" font-size="7.9" font-weight="bold" text-anchor="start" fill="#000" stroke="#000" stroke-width="0.3" textLength="11.34" lengthAdjust="spacingAndGlyphs">350</text>
<text x="404.92" y="361.1" font-family="'Liberation Sans', Arial, sans-serif" font-size="7.9" font-weight="bold" text-anchor="start" fill="#000" stroke="#000" stroke-width="0.3" textLength="11.34" lengthAdjust="spacingAndGlyphs">400</text>
<text x="225.58" y="202.1" font-family="'Liberation Sans', Arial, sans-serif" font-size="7.6" font-weight="bold" text-anchor="start" fill="#000" stroke="#000" stroke-width="0.3" textLength="13.31" lengthAdjust="spacingAndGlyphs">0.25</text>
<text x="225.67" y="251.97" font-family="'Liberation Sans', Arial, sans-serif" font-size="7.6" font-weight="bold" text-anchor="start" fill="#000" stroke="#000" stroke-width="0.3" textLength="13.31" lengthAdjust="spacingAndGlyphs">0.20</text>
<text x="225.58" y="301.83" font-family="'Liberation Sans', Arial, sans-serif" font-size="7.6" font-weight="bold" text-anchor="start" fill="#000" stroke="#000" stroke-width="0.3" textLength="13.31" lengthAdjust="spacingAndGlyphs">0.15</text>
<text x="225.67" y="351.7" font-family="'Liberation Sans', Arial, sans-serif" font-size="7.6" font-weight="bold" text-anchor="start" fill="#000" stroke="#000" stroke-width="0.3" textLength="13.31" lengthAdjust="spacingAndGlyphs">0.10</text>
<text x="315.84" y="377.65" font-family="'Liberation Sans', Arial, sans-serif" font-size="10.76" font-weight="bold" text-anchor="start" fill="#000" stroke="#000" stroke-width="0.3" textLength="23.12" lengthAdjust="spacingAndGlyphs">T (K)</text>
<text transform="translate(216.5,0) rotate(-90)" x="-324.79" y="0" font-family="'Liberation Sans', Arial, sans-serif" font-size="12" font-weight="bold" stroke="#000" stroke-width="0.3" textLength="49.25" lengthAdjust="spacingAndGlyphs">Moment (</text>
<text transform="translate(215.6,0) rotate(-90)" x="-274.91" y="0" font-family="'Liberation Sans', Arial, sans-serif" font-size="9.5" font-weight="normal" textLength="8.2" lengthAdjust="spacingAndGlyphs">μ</text>
<text transform="translate(219.3,0) rotate(-90)" x="-267.74" y="0" font-family="'Liberation Sans', Arial, sans-serif" font-size="5.8" font-weight="bold" stroke="#000" stroke-width="0.3" textLength="4.26" lengthAdjust="spacingAndGlyphs">B</text>
<text transform="translate(216.5,0) rotate(-90)" x="-266.17" y="0" font-family="'Liberation Sans', Arial, sans-serif" font-size="12" font-weight="bold" stroke="#000" stroke-width="0.3" textLength="24.04" lengthAdjust="spacingAndGlyphs">/Co)</text>
<text x="251.32" y="215.05" font-family="'Liberation Serif', 'Times New Roman', serif" font-size="12.3" font-weight="bold" text-anchor="start" fill="#000" textLength="14.87" lengthAdjust="spacingAndGlyphs">(d)</text>
<text x="315.62" y="252.75" font-family="'Liberation Sans', Arial, sans-serif" font-size="8.28" font-weight="bold" text-anchor="start" fill="#000" stroke="#000" stroke-width="0.3" textLength="10.55" lengthAdjust="spacingAndGlyphs">FC</text>
<text x="313.92" y="288.75" font-family="'Liberation Sans', Arial, sans-serif" font-size="9.16" font-weight="bold" text-anchor="start" fill="#000" stroke="#000" stroke-width="0.3" textLength="15.15" lengthAdjust="spacingAndGlyphs">ZFC</text>
</svg>
</body></html>
